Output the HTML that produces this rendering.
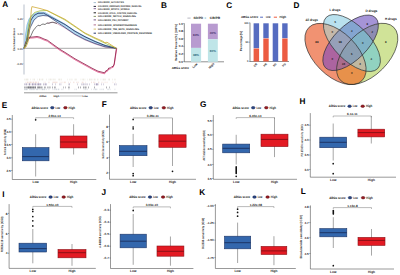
<!DOCTYPE html>
<html><head><meta charset="utf-8"><title>Figure</title>
<style>html,body{margin:0;padding:0;background:#fff;width:400px;height:275px;overflow:hidden;font-family:"Liberation Sans", sans-serif;}</style>
</head><body>
<svg width="400" height="275" viewBox="0 0 400 275" style="display:block" text-rendering="geometricPrecision" font-family="'Liberation Sans', sans-serif">
<rect width="400" height="275" fill="#fff"/>
<text x="2.2" y="6.90" font-size="8.2" font-weight="bold" fill="#000">A</text>
<line x1="24" y1="4.5" x2="24" y2="74.5" stroke="#9aa3b5" stroke-width="0.7"/>
<line x1="24" y1="48.3" x2="116.6" y2="48.3" stroke="#a0a0a0" stroke-width="0.9"/>
<line x1="23" y1="18.7" x2="24" y2="18.7" stroke="#9aa3b5" stroke-width="0.4"/>
<text x="22.6" y="19.599999999999998" font-size="2.6" text-anchor="end" fill="#333" stroke="#333" stroke-width="0.0" font-weight="bold">0.40</text>
<line x1="23" y1="34.1" x2="24" y2="34.1" stroke="#9aa3b5" stroke-width="0.4"/>
<text x="22.6" y="35.0" font-size="2.6" text-anchor="end" fill="#333" stroke="#333" stroke-width="0.0" font-weight="bold">0.20</text>
<line x1="23" y1="49" x2="24" y2="49" stroke="#9aa3b5" stroke-width="0.4"/>
<text x="22.6" y="49.9" font-size="2.6" text-anchor="end" fill="#333" stroke="#333" stroke-width="0.0" font-weight="bold">0.00</text>
<line x1="23" y1="63.8" x2="24" y2="63.8" stroke="#9aa3b5" stroke-width="0.4"/>
<text x="22.6" y="64.7" font-size="2.6" text-anchor="end" fill="#333" stroke="#333" stroke-width="0.0" font-weight="bold">-0.20</text>
<text x="14.6" y="39.5" font-size="2.7" text-anchor="middle" fill="#222" stroke="#222" stroke-width="0.0" font-weight="bold" transform="rotate(-90 14.6 39.5)">Enrichment Score</text>
<polygon points="24,48.3 24.6,44 25.5,35 27,25 29,19 32,15 36,13 40,12.2 45,12.5 65,24.1 75,30.9 85,36.4 95,41.1 105,45.1 116.4,48.3 116.4,48.3 105,46.8 95,43.5 85,39.5 75,34.3 65,27.5 48,16 43,15.5 38,16.5 34,20 30,28 27,42 24,48.3" fill="#b5daf0" stroke="none"/>
<polyline points="24,48.3 24.6,44 25.5,35 27,25 29,19 32,15 36,13 40,12.2 45,12.5 65,24.1 75,30.9 85,36.4 95,41.1 105,45.1 116.4,48.3" fill="none" stroke="#78b4e0" stroke-width="0.7" stroke-linejoin="round"/>
<polyline points="24.3,48.3 25.5,44.0 27.5,38.8 30,38.2 33,38.0 37,37.5 40,38.2 44,40.0 47.3,41.2 55,46.8 60,50.4 65,53.4 75,59.8 85,65.3 92,69.2 98,72.2 104.6,73.8 105.8,71.8 107.3,71.4 108.8,69.0 110.3,69.1 111.8,67.6 113,67.5 114.2,65.0 116.8,48.3" fill="none" stroke="#e4508a" stroke-width="0.75" stroke-linejoin="round"/>
<polyline points="24,48.3 25.5,43 27.5,37.8 30,37.2 33,37 37,36.5 40,37.2 44,39 47.3,40.2 55,45.8 60,49.4 65,52.4 75,58.8 85,64.3 92,68.2 98,71.2 104.6,72.8 105.8,70.8 107.3,70.4 108.8,68 110.3,68.1 111.8,66.6 113,66.5 114.2,64 116.4,48.3" fill="none" stroke="#8a1842" stroke-width="0.8" stroke-linejoin="round"/>
<polyline points="47,23.2 52.7,22.4 57,23.6 65,28.0 75,34.8 85,40.0 95,44.0 105,47.1 116.4,48.3" fill="none" stroke="#b86090" stroke-width="0.45" stroke-linejoin="round"/>
<polyline points="24,48.3 27,42 30,28 34,20 38,16.5 43,15.5 48,16 65,27.5 75,34.3 85,39.5 95,43.5 105,46.8 116.4,48.3" fill="none" stroke="#2c3a70" stroke-width="0.7" stroke-linejoin="round"/>
<polyline points="24,48.3 27,42 29.5,38 31,35.5 33,31 35,28.2 36.5,26.8 38,25.2 40,25.8 41.5,24.6 43,24 45,24.5 47,23 49,23.3 51,22.4 53,22.2 55,22.8 57,23.5" fill="none" stroke="#333333" stroke-width="0.65" stroke-linejoin="round"/>
<polyline points="24,48.3 26,44 27.5,35 28.5,30 31,20 34,15.5 38,13.3 43.6,13.2 65,24.5 75,31.3 85,36.8 95,41.5 105,45.5 116.4,48.3" fill="none" stroke="#1e2d5c" stroke-width="0.8" stroke-linejoin="round"/>
<polyline points="24,48.3 26.5,42 28.5,25 30.5,17.5 34.5,12.5 40,10.8 46.9,10.5 65,20 85,33.5 95,38.5 105,43.2 116.4,48.3" fill="none" stroke="#9fbf3a" stroke-width="0.75" stroke-linejoin="round"/>
<polyline points="24,48.3 26,47 28,42 29.5,30 30.7,18 31.3,10 31.9,6.6 40,8.5 47.3,10.6 65,19.3 85,33 95,37.8 103,41.3 105,42.8 107,42.2 112,45.5 116.4,48.3" fill="none" stroke="#d0aa35" stroke-width="0.8" stroke-linejoin="round"/>
<line x1="93.6" y1="2.6" x2="96" y2="2.6" stroke="#a8c0d0" stroke-width="1.0"/>
<text x="98.1" y="3.4000000000000004" font-size="2.5" fill="#2a2a2a" font-weight="bold" textLength="25.7" lengthAdjust="spacingAndGlyphs">HALLMARK_GLYCOLYSIS</text>
<line x1="93.6" y1="6.4" x2="96" y2="6.4" stroke="#2a2a3a" stroke-width="1.0"/>
<text x="98.1" y="7.2" font-size="2.5" fill="#2a2a2a" font-weight="bold" textLength="43.2" lengthAdjust="spacingAndGlyphs">HALLMARK_ANDROGEN_RESPONSE_SIGNALING</text>
<line x1="93.6" y1="8.7" x2="96" y2="8.7" stroke="#8a6a9a" stroke-width="1.0"/>
<text x="98.1" y="9.5" font-size="2.5" fill="#2a2a2a" font-weight="bold" textLength="31.5" lengthAdjust="spacingAndGlyphs">HALLMARK_MITOTIC_SPINDLE</text>
<line x1="93.6" y1="12.8" x2="96" y2="12.8" stroke="#222222" stroke-width="1.0"/>
<text x="98.1" y="13.600000000000001" font-size="2.5" fill="#2a2a2a" font-weight="bold" textLength="38.8" lengthAdjust="spacingAndGlyphs">HALLMARK_APICAL_JUNCTION_SIGNALING</text>
<line x1="93.6" y1="16.4" x2="96" y2="16.4" stroke="#8a9a6a" stroke-width="1.0"/>
<text x="98.1" y="17.2" font-size="2.5" fill="#2a2a2a" font-weight="bold" textLength="37.8" lengthAdjust="spacingAndGlyphs">HALLMARK_NOTCH_SIGNALING</text>
<line x1="93.6" y1="19.9" x2="96" y2="19.9" stroke="#7a5a8a" stroke-width="1.0"/>
<text x="98.1" y="20.7" font-size="2.5" fill="#2a2a2a" font-weight="bold" textLength="30.5" lengthAdjust="spacingAndGlyphs">HALLMARK_P53_PATHWAY</text>
<line x1="93.6" y1="24.9" x2="96" y2="24.9" stroke="#b07090" stroke-width="1.0"/>
<text x="98.1" y="25.7" font-size="2.5" fill="#2a2a2a" font-weight="bold" textLength="38.8" lengthAdjust="spacingAndGlyphs">HALLMARK_SPERMATOGENESIS</text>
<line x1="93.6" y1="29.1" x2="96" y2="29.1" stroke="#d8c070" stroke-width="1.0"/>
<text x="98.1" y="29.900000000000002" font-size="2.5" fill="#2a2a2a" font-weight="bold" textLength="41.0" lengthAdjust="spacingAndGlyphs">HALLMARK_TNF_BETA_SIGNALING</text>
<line x1="93.6" y1="33.2" x2="96" y2="33.2" stroke="#2a3a6a" stroke-width="1.0"/>
<text x="98.1" y="34.0" font-size="2.5" fill="#2a2a2a" font-weight="bold" textLength="54.1" lengthAdjust="spacingAndGlyphs">HALLMARK_UNFOLDED_PROTEIN_RESPONSE</text>
<line x1="24.5" y1="78.7" x2="24.5" y2="80.4" stroke="#c0b8a0" stroke-width="0.4" opacity="0.45"/>
<line x1="25.3" y1="78.7" x2="25.3" y2="80.4" stroke="#c0b8a0" stroke-width="0.4" opacity="0.45"/>
<line x1="26.5" y1="78.7" x2="26.5" y2="80.4" stroke="#c0b8a0" stroke-width="0.4" opacity="0.45"/>
<line x1="26.9" y1="78.7" x2="26.9" y2="80.4" stroke="#c0b8a0" stroke-width="0.4" opacity="0.45"/>
<line x1="27.7" y1="78.7" x2="27.7" y2="80.4" stroke="#c0b8a0" stroke-width="0.4" opacity="0.45"/>
<line x1="28.1" y1="78.7" x2="28.1" y2="80.4" stroke="#c0b8a0" stroke-width="0.4" opacity="0.45"/>
<line x1="30.5" y1="78.7" x2="30.5" y2="80.4" stroke="#c0b8a0" stroke-width="0.4" opacity="0.45"/>
<line x1="32.9" y1="78.7" x2="32.9" y2="80.4" stroke="#c0b8a0" stroke-width="0.4" opacity="0.45"/>
<line x1="34.1" y1="78.7" x2="34.1" y2="80.4" stroke="#c0b8a0" stroke-width="0.4" opacity="0.45"/>
<line x1="34.5" y1="78.7" x2="34.5" y2="80.4" stroke="#c0b8a0" stroke-width="0.4" opacity="0.45"/>
<line x1="37.3" y1="78.7" x2="37.3" y2="80.4" stroke="#c0b8a0" stroke-width="0.4" opacity="0.45"/>
<line x1="39.3" y1="78.7" x2="39.3" y2="80.4" stroke="#c0b8a0" stroke-width="0.4" opacity="0.45"/>
<line x1="39.7" y1="78.7" x2="39.7" y2="80.4" stroke="#c0b8a0" stroke-width="0.4" opacity="0.45"/>
<line x1="40.1" y1="78.7" x2="40.1" y2="80.4" stroke="#c0b8a0" stroke-width="0.4" opacity="0.45"/>
<line x1="41.7" y1="78.7" x2="41.7" y2="80.4" stroke="#c0b8a0" stroke-width="0.4" opacity="0.45"/>
<line x1="42.5" y1="78.7" x2="42.5" y2="80.4" stroke="#c0b8a0" stroke-width="0.4" opacity="0.45"/>
<line x1="42.9" y1="78.7" x2="42.9" y2="80.4" stroke="#c0b8a0" stroke-width="0.4" opacity="0.45"/>
<line x1="46.5" y1="78.7" x2="46.5" y2="80.4" stroke="#c0b8a0" stroke-width="0.4" opacity="0.45"/>
<line x1="48.9" y1="78.7" x2="48.9" y2="80.4" stroke="#c0b8a0" stroke-width="0.4" opacity="0.45"/>
<line x1="50.1" y1="78.7" x2="50.1" y2="80.4" stroke="#c0b8a0" stroke-width="0.4" opacity="0.45"/>
<line x1="50.5" y1="78.7" x2="50.5" y2="80.4" stroke="#c0b8a0" stroke-width="0.4" opacity="0.45"/>
<line x1="51.7" y1="78.7" x2="51.7" y2="80.4" stroke="#c0b8a0" stroke-width="0.4" opacity="0.45"/>
<line x1="52.9" y1="78.7" x2="52.9" y2="80.4" stroke="#c0b8a0" stroke-width="0.4" opacity="0.45"/>
<line x1="53.3" y1="78.7" x2="53.3" y2="80.4" stroke="#c0b8a0" stroke-width="0.4" opacity="0.45"/>
<line x1="54.5" y1="78.7" x2="54.5" y2="80.4" stroke="#c0b8a0" stroke-width="0.4" opacity="0.45"/>
<line x1="55.3" y1="78.7" x2="55.3" y2="80.4" stroke="#c0b8a0" stroke-width="0.4" opacity="0.45"/>
<line x1="58.5" y1="78.7" x2="58.5" y2="80.4" stroke="#c0b8a0" stroke-width="0.4" opacity="0.45"/>
<line x1="59.3" y1="78.7" x2="59.3" y2="80.4" stroke="#c0b8a0" stroke-width="0.4" opacity="0.45"/>
<line x1="59.7" y1="78.7" x2="59.7" y2="80.4" stroke="#c0b8a0" stroke-width="0.4" opacity="0.45"/>
<line x1="60.9" y1="78.7" x2="60.9" y2="80.4" stroke="#c0b8a0" stroke-width="0.4" opacity="0.45"/>
<line x1="61.3" y1="78.7" x2="61.3" y2="80.4" stroke="#c0b8a0" stroke-width="0.4" opacity="0.45"/>
<line x1="67.7" y1="78.7" x2="67.7" y2="80.4" stroke="#c0b8a0" stroke-width="0.4" opacity="0.45"/>
<line x1="69.7" y1="78.7" x2="69.7" y2="80.4" stroke="#c0b8a0" stroke-width="0.4" opacity="0.45"/>
<line x1="70.9" y1="78.7" x2="70.9" y2="80.4" stroke="#c0b8a0" stroke-width="0.4" opacity="0.45"/>
<line x1="72.1" y1="78.7" x2="72.1" y2="80.4" stroke="#c0b8a0" stroke-width="0.4" opacity="0.45"/>
<line x1="74.9" y1="78.7" x2="74.9" y2="80.4" stroke="#c0b8a0" stroke-width="0.4" opacity="0.45"/>
<line x1="75.3" y1="78.7" x2="75.3" y2="80.4" stroke="#c0b8a0" stroke-width="0.4" opacity="0.45"/>
<line x1="76.5" y1="78.7" x2="76.5" y2="80.4" stroke="#c0b8a0" stroke-width="0.4" opacity="0.45"/>
<line x1="80.9" y1="78.7" x2="80.9" y2="80.4" stroke="#c0b8a0" stroke-width="0.4" opacity="0.45"/>
<line x1="82.5" y1="78.7" x2="82.5" y2="80.4" stroke="#c0b8a0" stroke-width="0.4" opacity="0.45"/>
<line x1="83.3" y1="78.7" x2="83.3" y2="80.4" stroke="#c0b8a0" stroke-width="0.4" opacity="0.45"/>
<line x1="83.7" y1="78.7" x2="83.7" y2="80.4" stroke="#c0b8a0" stroke-width="0.4" opacity="0.45"/>
<line x1="84.9" y1="78.7" x2="84.9" y2="80.4" stroke="#c0b8a0" stroke-width="0.4" opacity="0.45"/>
<line x1="87.3" y1="78.7" x2="87.3" y2="80.4" stroke="#c0b8a0" stroke-width="0.4" opacity="0.45"/>
<line x1="89.3" y1="78.7" x2="89.3" y2="80.4" stroke="#c0b8a0" stroke-width="0.4" opacity="0.45"/>
<line x1="89.7" y1="78.7" x2="89.7" y2="80.4" stroke="#c0b8a0" stroke-width="0.4" opacity="0.45"/>
<line x1="90.5" y1="78.7" x2="90.5" y2="80.4" stroke="#c0b8a0" stroke-width="0.4" opacity="0.45"/>
<line x1="91.7" y1="78.7" x2="91.7" y2="80.4" stroke="#c0b8a0" stroke-width="0.4" opacity="0.45"/>
<line x1="92.1" y1="78.7" x2="92.1" y2="80.4" stroke="#c0b8a0" stroke-width="0.4" opacity="0.45"/>
<line x1="94.1" y1="78.7" x2="94.1" y2="80.4" stroke="#c0b8a0" stroke-width="0.4" opacity="0.45"/>
<line x1="94.5" y1="78.7" x2="94.5" y2="80.4" stroke="#c0b8a0" stroke-width="0.4" opacity="0.45"/>
<line x1="95.3" y1="78.7" x2="95.3" y2="80.4" stroke="#c0b8a0" stroke-width="0.4" opacity="0.45"/>
<line x1="97.7" y1="78.7" x2="97.7" y2="80.4" stroke="#c0b8a0" stroke-width="0.4" opacity="0.45"/>
<line x1="98.1" y1="78.7" x2="98.1" y2="80.4" stroke="#c0b8a0" stroke-width="0.4" opacity="0.45"/>
<line x1="100.9" y1="78.7" x2="100.9" y2="80.4" stroke="#c0b8a0" stroke-width="0.4" opacity="0.45"/>
<line x1="102.9" y1="78.7" x2="102.9" y2="80.4" stroke="#c0b8a0" stroke-width="0.4" opacity="0.45"/>
<line x1="103.7" y1="78.7" x2="103.7" y2="80.4" stroke="#c0b8a0" stroke-width="0.4" opacity="0.45"/>
<line x1="104.1" y1="78.7" x2="104.1" y2="80.4" stroke="#c0b8a0" stroke-width="0.4" opacity="0.45"/>
<line x1="104.9" y1="78.7" x2="104.9" y2="80.4" stroke="#c0b8a0" stroke-width="0.4" opacity="0.45"/>
<line x1="105.7" y1="78.7" x2="105.7" y2="80.4" stroke="#c0b8a0" stroke-width="0.4" opacity="0.45"/>
<line x1="108.5" y1="78.7" x2="108.5" y2="80.4" stroke="#c0b8a0" stroke-width="0.4" opacity="0.45"/>
<line x1="109.3" y1="78.7" x2="109.3" y2="80.4" stroke="#c0b8a0" stroke-width="0.4" opacity="0.45"/>
<line x1="109.7" y1="78.7" x2="109.7" y2="80.4" stroke="#c0b8a0" stroke-width="0.4" opacity="0.45"/>
<line x1="112.5" y1="78.7" x2="112.5" y2="80.4" stroke="#c0b8a0" stroke-width="0.4" opacity="0.45"/>
<line x1="114.5" y1="78.7" x2="114.5" y2="80.4" stroke="#c0b8a0" stroke-width="0.4" opacity="0.45"/>
<line x1="115.7" y1="78.7" x2="115.7" y2="80.4" stroke="#c0b8a0" stroke-width="0.4" opacity="0.45"/>
<line x1="25.7" y1="81.7" x2="25.7" y2="83.10000000000001" stroke="#e0a898" stroke-width="0.4" opacity="0.5"/>
<line x1="26.9" y1="81.7" x2="26.9" y2="83.10000000000001" stroke="#e0a898" stroke-width="0.4" opacity="0.5"/>
<line x1="27.3" y1="81.7" x2="27.3" y2="83.10000000000001" stroke="#e0a898" stroke-width="0.4" opacity="0.5"/>
<line x1="27.7" y1="81.7" x2="27.7" y2="83.10000000000001" stroke="#e0a898" stroke-width="0.4" opacity="0.5"/>
<line x1="28.5" y1="81.7" x2="28.5" y2="83.10000000000001" stroke="#e0a898" stroke-width="0.4" opacity="0.5"/>
<line x1="29.7" y1="81.7" x2="29.7" y2="83.10000000000001" stroke="#e0a898" stroke-width="0.4" opacity="0.5"/>
<line x1="30.1" y1="81.7" x2="30.1" y2="83.10000000000001" stroke="#e0a898" stroke-width="0.4" opacity="0.5"/>
<line x1="30.5" y1="81.7" x2="30.5" y2="83.10000000000001" stroke="#e0a898" stroke-width="0.4" opacity="0.5"/>
<line x1="30.9" y1="81.7" x2="30.9" y2="83.10000000000001" stroke="#e0a898" stroke-width="0.4" opacity="0.5"/>
<line x1="31.3" y1="81.7" x2="31.3" y2="83.10000000000001" stroke="#e0a898" stroke-width="0.4" opacity="0.5"/>
<line x1="32.5" y1="81.7" x2="32.5" y2="83.10000000000001" stroke="#e0a898" stroke-width="0.4" opacity="0.5"/>
<line x1="33.3" y1="81.7" x2="33.3" y2="83.10000000000001" stroke="#e0a898" stroke-width="0.4" opacity="0.5"/>
<line x1="33.7" y1="81.7" x2="33.7" y2="83.10000000000001" stroke="#e0a898" stroke-width="0.4" opacity="0.5"/>
<line x1="34.1" y1="81.7" x2="34.1" y2="83.10000000000001" stroke="#e0a898" stroke-width="0.4" opacity="0.5"/>
<line x1="35.3" y1="81.7" x2="35.3" y2="83.10000000000001" stroke="#e0a898" stroke-width="0.4" opacity="0.5"/>
<line x1="35.7" y1="81.7" x2="35.7" y2="83.10000000000001" stroke="#e0a898" stroke-width="0.4" opacity="0.5"/>
<line x1="36.1" y1="81.7" x2="36.1" y2="83.10000000000001" stroke="#e0a898" stroke-width="0.4" opacity="0.5"/>
<line x1="36.5" y1="81.7" x2="36.5" y2="83.10000000000001" stroke="#e0a898" stroke-width="0.4" opacity="0.5"/>
<line x1="38.1" y1="81.7" x2="38.1" y2="83.10000000000001" stroke="#e0a898" stroke-width="0.4" opacity="0.5"/>
<line x1="38.5" y1="81.7" x2="38.5" y2="83.10000000000001" stroke="#e0a898" stroke-width="0.4" opacity="0.5"/>
<line x1="44.1" y1="81.7" x2="44.1" y2="83.10000000000001" stroke="#e0a898" stroke-width="0.4" opacity="0.5"/>
<line x1="45.3" y1="81.7" x2="45.3" y2="83.10000000000001" stroke="#e0a898" stroke-width="0.4" opacity="0.5"/>
<line x1="48.5" y1="81.7" x2="48.5" y2="83.10000000000001" stroke="#e0a898" stroke-width="0.4" opacity="0.5"/>
<line x1="49.3" y1="81.7" x2="49.3" y2="83.10000000000001" stroke="#e0a898" stroke-width="0.4" opacity="0.5"/>
<line x1="52.5" y1="81.7" x2="52.5" y2="83.10000000000001" stroke="#e0a898" stroke-width="0.4" opacity="0.5"/>
<line x1="53.3" y1="81.7" x2="53.3" y2="83.10000000000001" stroke="#e0a898" stroke-width="0.4" opacity="0.5"/>
<line x1="53.7" y1="81.7" x2="53.7" y2="83.10000000000001" stroke="#e0a898" stroke-width="0.4" opacity="0.5"/>
<line x1="54.5" y1="81.7" x2="54.5" y2="83.10000000000001" stroke="#e0a898" stroke-width="0.4" opacity="0.5"/>
<line x1="54.9" y1="81.7" x2="54.9" y2="83.10000000000001" stroke="#e0a898" stroke-width="0.4" opacity="0.5"/>
<line x1="55.3" y1="81.7" x2="55.3" y2="83.10000000000001" stroke="#e0a898" stroke-width="0.4" opacity="0.5"/>
<line x1="56.1" y1="81.7" x2="56.1" y2="83.10000000000001" stroke="#e0a898" stroke-width="0.4" opacity="0.5"/>
<line x1="56.5" y1="81.7" x2="56.5" y2="83.10000000000001" stroke="#e0a898" stroke-width="0.4" opacity="0.5"/>
<line x1="57.3" y1="81.7" x2="57.3" y2="83.10000000000001" stroke="#e0a898" stroke-width="0.4" opacity="0.5"/>
<line x1="60.1" y1="81.7" x2="60.1" y2="83.10000000000001" stroke="#e0a898" stroke-width="0.4" opacity="0.5"/>
<line x1="61.7" y1="81.7" x2="61.7" y2="83.10000000000001" stroke="#e0a898" stroke-width="0.4" opacity="0.5"/>
<line x1="62.9" y1="81.7" x2="62.9" y2="83.10000000000001" stroke="#e0a898" stroke-width="0.4" opacity="0.5"/>
<line x1="64.5" y1="81.7" x2="64.5" y2="83.10000000000001" stroke="#e0a898" stroke-width="0.4" opacity="0.5"/>
<line x1="64.9" y1="81.7" x2="64.9" y2="83.10000000000001" stroke="#e0a898" stroke-width="0.4" opacity="0.5"/>
<line x1="65.3" y1="81.7" x2="65.3" y2="83.10000000000001" stroke="#e0a898" stroke-width="0.4" opacity="0.5"/>
<line x1="68.5" y1="81.7" x2="68.5" y2="83.10000000000001" stroke="#e0a898" stroke-width="0.4" opacity="0.5"/>
<line x1="70.5" y1="81.7" x2="70.5" y2="83.10000000000001" stroke="#e0a898" stroke-width="0.4" opacity="0.5"/>
<line x1="73.7" y1="81.7" x2="73.7" y2="83.10000000000001" stroke="#e0a898" stroke-width="0.4" opacity="0.5"/>
<line x1="74.1" y1="81.7" x2="74.1" y2="83.10000000000001" stroke="#e0a898" stroke-width="0.4" opacity="0.5"/>
<line x1="76.5" y1="81.7" x2="76.5" y2="83.10000000000001" stroke="#e0a898" stroke-width="0.4" opacity="0.5"/>
<line x1="77.3" y1="81.7" x2="77.3" y2="83.10000000000001" stroke="#e0a898" stroke-width="0.4" opacity="0.5"/>
<line x1="78.5" y1="81.7" x2="78.5" y2="83.10000000000001" stroke="#e0a898" stroke-width="0.4" opacity="0.5"/>
<line x1="82.1" y1="81.7" x2="82.1" y2="83.10000000000001" stroke="#e0a898" stroke-width="0.4" opacity="0.5"/>
<line x1="82.5" y1="81.7" x2="82.5" y2="83.10000000000001" stroke="#e0a898" stroke-width="0.4" opacity="0.5"/>
<line x1="83.7" y1="81.7" x2="83.7" y2="83.10000000000001" stroke="#e0a898" stroke-width="0.4" opacity="0.5"/>
<line x1="85.3" y1="81.7" x2="85.3" y2="83.10000000000001" stroke="#e0a898" stroke-width="0.4" opacity="0.5"/>
<line x1="91.3" y1="81.7" x2="91.3" y2="83.10000000000001" stroke="#e0a898" stroke-width="0.4" opacity="0.5"/>
<line x1="91.7" y1="81.7" x2="91.7" y2="83.10000000000001" stroke="#e0a898" stroke-width="0.4" opacity="0.5"/>
<line x1="93.7" y1="81.7" x2="93.7" y2="83.10000000000001" stroke="#e0a898" stroke-width="0.4" opacity="0.5"/>
<line x1="94.1" y1="81.7" x2="94.1" y2="83.10000000000001" stroke="#e0a898" stroke-width="0.4" opacity="0.5"/>
<line x1="94.9" y1="81.7" x2="94.9" y2="83.10000000000001" stroke="#e0a898" stroke-width="0.4" opacity="0.5"/>
<line x1="98.5" y1="81.7" x2="98.5" y2="83.10000000000001" stroke="#e0a898" stroke-width="0.4" opacity="0.5"/>
<line x1="98.9" y1="81.7" x2="98.9" y2="83.10000000000001" stroke="#e0a898" stroke-width="0.4" opacity="0.5"/>
<line x1="101.3" y1="81.7" x2="101.3" y2="83.10000000000001" stroke="#e0a898" stroke-width="0.4" opacity="0.5"/>
<line x1="102.9" y1="81.7" x2="102.9" y2="83.10000000000001" stroke="#e0a898" stroke-width="0.4" opacity="0.5"/>
<line x1="104.9" y1="81.7" x2="104.9" y2="83.10000000000001" stroke="#e0a898" stroke-width="0.4" opacity="0.5"/>
<line x1="106.1" y1="81.7" x2="106.1" y2="83.10000000000001" stroke="#e0a898" stroke-width="0.4" opacity="0.5"/>
<line x1="107.3" y1="81.7" x2="107.3" y2="83.10000000000001" stroke="#e0a898" stroke-width="0.4" opacity="0.5"/>
<line x1="112.9" y1="81.7" x2="112.9" y2="83.10000000000001" stroke="#e0a898" stroke-width="0.4" opacity="0.5"/>
<line x1="115.3" y1="81.7" x2="115.3" y2="83.10000000000001" stroke="#e0a898" stroke-width="0.4" opacity="0.5"/>
<line x1="24.5" y1="83.4" x2="24.5" y2="85.30000000000001" stroke="#5a4a80" stroke-width="0.4" opacity="0.7"/>
<line x1="25.7" y1="83.4" x2="25.7" y2="85.30000000000001" stroke="#5a4a80" stroke-width="0.4" opacity="0.7"/>
<line x1="26.5" y1="83.4" x2="26.5" y2="85.30000000000001" stroke="#5a4a80" stroke-width="0.4" opacity="0.7"/>
<line x1="26.9" y1="83.4" x2="26.9" y2="85.30000000000001" stroke="#5a4a80" stroke-width="0.4" opacity="0.7"/>
<line x1="28.9" y1="83.4" x2="28.9" y2="85.30000000000001" stroke="#5a4a80" stroke-width="0.4" opacity="0.7"/>
<line x1="29.3" y1="83.4" x2="29.3" y2="85.30000000000001" stroke="#5a4a80" stroke-width="0.4" opacity="0.7"/>
<line x1="29.7" y1="83.4" x2="29.7" y2="85.30000000000001" stroke="#5a4a80" stroke-width="0.4" opacity="0.7"/>
<line x1="30.1" y1="83.4" x2="30.1" y2="85.30000000000001" stroke="#5a4a80" stroke-width="0.4" opacity="0.7"/>
<line x1="32.1" y1="83.4" x2="32.1" y2="85.30000000000001" stroke="#5a4a80" stroke-width="0.4" opacity="0.7"/>
<line x1="32.5" y1="83.4" x2="32.5" y2="85.30000000000001" stroke="#5a4a80" stroke-width="0.4" opacity="0.7"/>
<line x1="32.9" y1="83.4" x2="32.9" y2="85.30000000000001" stroke="#5a4a80" stroke-width="0.4" opacity="0.7"/>
<line x1="33.7" y1="83.4" x2="33.7" y2="85.30000000000001" stroke="#5a4a80" stroke-width="0.4" opacity="0.7"/>
<line x1="34.5" y1="83.4" x2="34.5" y2="85.30000000000001" stroke="#5a4a80" stroke-width="0.4" opacity="0.7"/>
<line x1="35.3" y1="83.4" x2="35.3" y2="85.30000000000001" stroke="#5a4a80" stroke-width="0.4" opacity="0.7"/>
<line x1="35.7" y1="83.4" x2="35.7" y2="85.30000000000001" stroke="#5a4a80" stroke-width="0.4" opacity="0.7"/>
<line x1="36.1" y1="83.4" x2="36.1" y2="85.30000000000001" stroke="#5a4a80" stroke-width="0.4" opacity="0.7"/>
<line x1="37.3" y1="83.4" x2="37.3" y2="85.30000000000001" stroke="#5a4a80" stroke-width="0.4" opacity="0.7"/>
<line x1="38.1" y1="83.4" x2="38.1" y2="85.30000000000001" stroke="#5a4a80" stroke-width="0.4" opacity="0.7"/>
<line x1="38.5" y1="83.4" x2="38.5" y2="85.30000000000001" stroke="#5a4a80" stroke-width="0.4" opacity="0.7"/>
<line x1="38.9" y1="83.4" x2="38.9" y2="85.30000000000001" stroke="#5a4a80" stroke-width="0.4" opacity="0.7"/>
<line x1="39.3" y1="83.4" x2="39.3" y2="85.30000000000001" stroke="#5a4a80" stroke-width="0.4" opacity="0.7"/>
<line x1="40.5" y1="83.4" x2="40.5" y2="85.30000000000001" stroke="#5a4a80" stroke-width="0.4" opacity="0.7"/>
<line x1="40.9" y1="83.4" x2="40.9" y2="85.30000000000001" stroke="#5a4a80" stroke-width="0.4" opacity="0.7"/>
<line x1="43.3" y1="83.4" x2="43.3" y2="85.30000000000001" stroke="#5a4a80" stroke-width="0.4" opacity="0.7"/>
<line x1="44.1" y1="83.4" x2="44.1" y2="85.30000000000001" stroke="#5a4a80" stroke-width="0.4" opacity="0.7"/>
<line x1="45.3" y1="83.4" x2="45.3" y2="85.30000000000001" stroke="#5a4a80" stroke-width="0.4" opacity="0.7"/>
<line x1="45.7" y1="83.4" x2="45.7" y2="85.30000000000001" stroke="#5a4a80" stroke-width="0.4" opacity="0.7"/>
<line x1="46.5" y1="83.4" x2="46.5" y2="85.30000000000001" stroke="#5a4a80" stroke-width="0.4" opacity="0.7"/>
<line x1="52.5" y1="83.4" x2="52.5" y2="85.30000000000001" stroke="#5a4a80" stroke-width="0.4" opacity="0.7"/>
<line x1="55.7" y1="83.4" x2="55.7" y2="85.30000000000001" stroke="#5a4a80" stroke-width="0.4" opacity="0.7"/>
<line x1="59.7" y1="83.4" x2="59.7" y2="85.30000000000001" stroke="#5a4a80" stroke-width="0.4" opacity="0.7"/>
<line x1="60.9" y1="83.4" x2="60.9" y2="85.30000000000001" stroke="#5a4a80" stroke-width="0.4" opacity="0.7"/>
<line x1="68.9" y1="83.4" x2="68.9" y2="85.30000000000001" stroke="#5a4a80" stroke-width="0.4" opacity="0.7"/>
<line x1="69.3" y1="83.4" x2="69.3" y2="85.30000000000001" stroke="#5a4a80" stroke-width="0.4" opacity="0.7"/>
<line x1="77.3" y1="83.4" x2="77.3" y2="85.30000000000001" stroke="#5a4a80" stroke-width="0.4" opacity="0.7"/>
<line x1="81.3" y1="83.4" x2="81.3" y2="85.30000000000001" stroke="#5a4a80" stroke-width="0.4" opacity="0.7"/>
<line x1="82.9" y1="83.4" x2="82.9" y2="85.30000000000001" stroke="#5a4a80" stroke-width="0.4" opacity="0.7"/>
<line x1="83.3" y1="83.4" x2="83.3" y2="85.30000000000001" stroke="#5a4a80" stroke-width="0.4" opacity="0.7"/>
<line x1="84.9" y1="83.4" x2="84.9" y2="85.30000000000001" stroke="#5a4a80" stroke-width="0.4" opacity="0.7"/>
<line x1="86.1" y1="83.4" x2="86.1" y2="85.30000000000001" stroke="#5a4a80" stroke-width="0.4" opacity="0.7"/>
<line x1="87.3" y1="83.4" x2="87.3" y2="85.30000000000001" stroke="#5a4a80" stroke-width="0.4" opacity="0.7"/>
<line x1="89.7" y1="83.4" x2="89.7" y2="85.30000000000001" stroke="#5a4a80" stroke-width="0.4" opacity="0.7"/>
<line x1="94.5" y1="83.4" x2="94.5" y2="85.30000000000001" stroke="#5a4a80" stroke-width="0.4" opacity="0.7"/>
<line x1="96.1" y1="83.4" x2="96.1" y2="85.30000000000001" stroke="#5a4a80" stroke-width="0.4" opacity="0.7"/>
<line x1="96.5" y1="83.4" x2="96.5" y2="85.30000000000001" stroke="#5a4a80" stroke-width="0.4" opacity="0.7"/>
<line x1="96.9" y1="83.4" x2="96.9" y2="85.30000000000001" stroke="#5a4a80" stroke-width="0.4" opacity="0.7"/>
<line x1="97.7" y1="83.4" x2="97.7" y2="85.30000000000001" stroke="#5a4a80" stroke-width="0.4" opacity="0.7"/>
<line x1="98.1" y1="83.4" x2="98.1" y2="85.30000000000001" stroke="#5a4a80" stroke-width="0.4" opacity="0.7"/>
<line x1="101.7" y1="83.4" x2="101.7" y2="85.30000000000001" stroke="#5a4a80" stroke-width="0.4" opacity="0.7"/>
<line x1="103.3" y1="83.4" x2="103.3" y2="85.30000000000001" stroke="#5a4a80" stroke-width="0.4" opacity="0.7"/>
<line x1="114.5" y1="83.4" x2="114.5" y2="85.30000000000001" stroke="#5a4a80" stroke-width="0.4" opacity="0.7"/>
<line x1="116.1" y1="83.4" x2="116.1" y2="85.30000000000001" stroke="#5a4a80" stroke-width="0.4" opacity="0.7"/>
<line x1="24.5" y1="86.5" x2="24.5" y2="88.4" stroke="#1a1a26" stroke-width="0.4" opacity="0.85"/>
<line x1="25.3" y1="86.5" x2="25.3" y2="88.4" stroke="#1a1a26" stroke-width="0.4" opacity="0.85"/>
<line x1="26.5" y1="86.5" x2="26.5" y2="88.4" stroke="#1a1a26" stroke-width="0.4" opacity="0.85"/>
<line x1="27.7" y1="86.5" x2="27.7" y2="88.4" stroke="#1a1a26" stroke-width="0.4" opacity="0.85"/>
<line x1="28.1" y1="86.5" x2="28.1" y2="88.4" stroke="#1a1a26" stroke-width="0.4" opacity="0.85"/>
<line x1="28.5" y1="86.5" x2="28.5" y2="88.4" stroke="#1a1a26" stroke-width="0.4" opacity="0.85"/>
<line x1="28.9" y1="86.5" x2="28.9" y2="88.4" stroke="#1a1a26" stroke-width="0.4" opacity="0.85"/>
<line x1="29.7" y1="86.5" x2="29.7" y2="88.4" stroke="#1a1a26" stroke-width="0.4" opacity="0.85"/>
<line x1="30.1" y1="86.5" x2="30.1" y2="88.4" stroke="#1a1a26" stroke-width="0.4" opacity="0.85"/>
<line x1="30.5" y1="86.5" x2="30.5" y2="88.4" stroke="#1a1a26" stroke-width="0.4" opacity="0.85"/>
<line x1="30.9" y1="86.5" x2="30.9" y2="88.4" stroke="#1a1a26" stroke-width="0.4" opacity="0.85"/>
<line x1="31.7" y1="86.5" x2="31.7" y2="88.4" stroke="#1a1a26" stroke-width="0.4" opacity="0.85"/>
<line x1="32.1" y1="86.5" x2="32.1" y2="88.4" stroke="#1a1a26" stroke-width="0.4" opacity="0.85"/>
<line x1="32.5" y1="86.5" x2="32.5" y2="88.4" stroke="#1a1a26" stroke-width="0.4" opacity="0.85"/>
<line x1="33.3" y1="86.5" x2="33.3" y2="88.4" stroke="#1a1a26" stroke-width="0.4" opacity="0.85"/>
<line x1="33.7" y1="86.5" x2="33.7" y2="88.4" stroke="#1a1a26" stroke-width="0.4" opacity="0.85"/>
<line x1="34.1" y1="86.5" x2="34.1" y2="88.4" stroke="#1a1a26" stroke-width="0.4" opacity="0.85"/>
<line x1="34.9" y1="86.5" x2="34.9" y2="88.4" stroke="#1a1a26" stroke-width="0.4" opacity="0.85"/>
<line x1="35.3" y1="86.5" x2="35.3" y2="88.4" stroke="#1a1a26" stroke-width="0.4" opacity="0.85"/>
<line x1="35.7" y1="86.5" x2="35.7" y2="88.4" stroke="#1a1a26" stroke-width="0.4" opacity="0.85"/>
<line x1="37.7" y1="86.5" x2="37.7" y2="88.4" stroke="#1a1a26" stroke-width="0.4" opacity="0.85"/>
<line x1="38.1" y1="86.5" x2="38.1" y2="88.4" stroke="#1a1a26" stroke-width="0.4" opacity="0.85"/>
<line x1="38.5" y1="86.5" x2="38.5" y2="88.4" stroke="#1a1a26" stroke-width="0.4" opacity="0.85"/>
<line x1="39.3" y1="86.5" x2="39.3" y2="88.4" stroke="#1a1a26" stroke-width="0.4" opacity="0.85"/>
<line x1="39.7" y1="86.5" x2="39.7" y2="88.4" stroke="#1a1a26" stroke-width="0.4" opacity="0.85"/>
<line x1="40.5" y1="86.5" x2="40.5" y2="88.4" stroke="#1a1a26" stroke-width="0.4" opacity="0.85"/>
<line x1="41.3" y1="86.5" x2="41.3" y2="88.4" stroke="#1a1a26" stroke-width="0.4" opacity="0.85"/>
<line x1="42.1" y1="86.5" x2="42.1" y2="88.4" stroke="#1a1a26" stroke-width="0.4" opacity="0.85"/>
<line x1="44.5" y1="86.5" x2="44.5" y2="88.4" stroke="#1a1a26" stroke-width="0.4" opacity="0.85"/>
<line x1="45.7" y1="86.5" x2="45.7" y2="88.4" stroke="#1a1a26" stroke-width="0.4" opacity="0.85"/>
<line x1="47.3" y1="86.5" x2="47.3" y2="88.4" stroke="#1a1a26" stroke-width="0.4" opacity="0.85"/>
<line x1="48.9" y1="86.5" x2="48.9" y2="88.4" stroke="#1a1a26" stroke-width="0.4" opacity="0.85"/>
<line x1="50.1" y1="86.5" x2="50.1" y2="88.4" stroke="#1a1a26" stroke-width="0.4" opacity="0.85"/>
<line x1="52.5" y1="86.5" x2="52.5" y2="88.4" stroke="#1a1a26" stroke-width="0.4" opacity="0.85"/>
<line x1="54.5" y1="86.5" x2="54.5" y2="88.4" stroke="#1a1a26" stroke-width="0.4" opacity="0.85"/>
<line x1="55.3" y1="86.5" x2="55.3" y2="88.4" stroke="#1a1a26" stroke-width="0.4" opacity="0.85"/>
<line x1="63.3" y1="86.5" x2="63.3" y2="88.4" stroke="#1a1a26" stroke-width="0.4" opacity="0.85"/>
<line x1="65.3" y1="86.5" x2="65.3" y2="88.4" stroke="#1a1a26" stroke-width="0.4" opacity="0.85"/>
<line x1="68.5" y1="86.5" x2="68.5" y2="88.4" stroke="#1a1a26" stroke-width="0.4" opacity="0.85"/>
<line x1="69.7" y1="86.5" x2="69.7" y2="88.4" stroke="#1a1a26" stroke-width="0.4" opacity="0.85"/>
<line x1="78.5" y1="86.5" x2="78.5" y2="88.4" stroke="#1a1a26" stroke-width="0.4" opacity="0.85"/>
<line x1="80.5" y1="86.5" x2="80.5" y2="88.4" stroke="#1a1a26" stroke-width="0.4" opacity="0.85"/>
<line x1="83.3" y1="86.5" x2="83.3" y2="88.4" stroke="#1a1a26" stroke-width="0.4" opacity="0.85"/>
<line x1="84.1" y1="86.5" x2="84.1" y2="88.4" stroke="#1a1a26" stroke-width="0.4" opacity="0.85"/>
<line x1="85.3" y1="86.5" x2="85.3" y2="88.4" stroke="#1a1a26" stroke-width="0.4" opacity="0.85"/>
<line x1="86.1" y1="86.5" x2="86.1" y2="88.4" stroke="#1a1a26" stroke-width="0.4" opacity="0.85"/>
<line x1="88.5" y1="86.5" x2="88.5" y2="88.4" stroke="#1a1a26" stroke-width="0.4" opacity="0.85"/>
<line x1="94.5" y1="86.5" x2="94.5" y2="88.4" stroke="#1a1a26" stroke-width="0.4" opacity="0.85"/>
<line x1="106.5" y1="86.5" x2="106.5" y2="88.4" stroke="#1a1a26" stroke-width="0.4" opacity="0.85"/>
<line x1="109.3" y1="86.5" x2="109.3" y2="88.4" stroke="#1a1a26" stroke-width="0.4" opacity="0.85"/>
<line x1="24.5" y1="88.7" x2="24.5" y2="90.10000000000001" stroke="#7a8aa0" stroke-width="0.4" opacity="0.5"/>
<line x1="24.9" y1="88.7" x2="24.9" y2="90.10000000000001" stroke="#7a8aa0" stroke-width="0.4" opacity="0.5"/>
<line x1="25.3" y1="88.7" x2="25.3" y2="90.10000000000001" stroke="#7a8aa0" stroke-width="0.4" opacity="0.5"/>
<line x1="26.1" y1="88.7" x2="26.1" y2="90.10000000000001" stroke="#7a8aa0" stroke-width="0.4" opacity="0.5"/>
<line x1="26.5" y1="88.7" x2="26.5" y2="90.10000000000001" stroke="#7a8aa0" stroke-width="0.4" opacity="0.5"/>
<line x1="26.9" y1="88.7" x2="26.9" y2="90.10000000000001" stroke="#7a8aa0" stroke-width="0.4" opacity="0.5"/>
<line x1="27.3" y1="88.7" x2="27.3" y2="90.10000000000001" stroke="#7a8aa0" stroke-width="0.4" opacity="0.5"/>
<line x1="29.7" y1="88.7" x2="29.7" y2="90.10000000000001" stroke="#7a8aa0" stroke-width="0.4" opacity="0.5"/>
<line x1="30.1" y1="88.7" x2="30.1" y2="90.10000000000001" stroke="#7a8aa0" stroke-width="0.4" opacity="0.5"/>
<line x1="30.9" y1="88.7" x2="30.9" y2="90.10000000000001" stroke="#7a8aa0" stroke-width="0.4" opacity="0.5"/>
<line x1="31.3" y1="88.7" x2="31.3" y2="90.10000000000001" stroke="#7a8aa0" stroke-width="0.4" opacity="0.5"/>
<line x1="32.1" y1="88.7" x2="32.1" y2="90.10000000000001" stroke="#7a8aa0" stroke-width="0.4" opacity="0.5"/>
<line x1="32.9" y1="88.7" x2="32.9" y2="90.10000000000001" stroke="#7a8aa0" stroke-width="0.4" opacity="0.5"/>
<line x1="33.3" y1="88.7" x2="33.3" y2="90.10000000000001" stroke="#7a8aa0" stroke-width="0.4" opacity="0.5"/>
<line x1="34.1" y1="88.7" x2="34.1" y2="90.10000000000001" stroke="#7a8aa0" stroke-width="0.4" opacity="0.5"/>
<line x1="34.9" y1="88.7" x2="34.9" y2="90.10000000000001" stroke="#7a8aa0" stroke-width="0.4" opacity="0.5"/>
<line x1="36.5" y1="88.7" x2="36.5" y2="90.10000000000001" stroke="#7a8aa0" stroke-width="0.4" opacity="0.5"/>
<line x1="36.9" y1="88.7" x2="36.9" y2="90.10000000000001" stroke="#7a8aa0" stroke-width="0.4" opacity="0.5"/>
<line x1="37.7" y1="88.7" x2="37.7" y2="90.10000000000001" stroke="#7a8aa0" stroke-width="0.4" opacity="0.5"/>
<line x1="38.1" y1="88.7" x2="38.1" y2="90.10000000000001" stroke="#7a8aa0" stroke-width="0.4" opacity="0.5"/>
<line x1="39.3" y1="88.7" x2="39.3" y2="90.10000000000001" stroke="#7a8aa0" stroke-width="0.4" opacity="0.5"/>
<line x1="40.9" y1="88.7" x2="40.9" y2="90.10000000000001" stroke="#7a8aa0" stroke-width="0.4" opacity="0.5"/>
<line x1="42.1" y1="88.7" x2="42.1" y2="90.10000000000001" stroke="#7a8aa0" stroke-width="0.4" opacity="0.5"/>
<line x1="42.5" y1="88.7" x2="42.5" y2="90.10000000000001" stroke="#7a8aa0" stroke-width="0.4" opacity="0.5"/>
<line x1="42.9" y1="88.7" x2="42.9" y2="90.10000000000001" stroke="#7a8aa0" stroke-width="0.4" opacity="0.5"/>
<line x1="43.3" y1="88.7" x2="43.3" y2="90.10000000000001" stroke="#7a8aa0" stroke-width="0.4" opacity="0.5"/>
<line x1="44.5" y1="88.7" x2="44.5" y2="90.10000000000001" stroke="#7a8aa0" stroke-width="0.4" opacity="0.5"/>
<line x1="44.9" y1="88.7" x2="44.9" y2="90.10000000000001" stroke="#7a8aa0" stroke-width="0.4" opacity="0.5"/>
<line x1="46.5" y1="88.7" x2="46.5" y2="90.10000000000001" stroke="#7a8aa0" stroke-width="0.4" opacity="0.5"/>
<line x1="48.9" y1="88.7" x2="48.9" y2="90.10000000000001" stroke="#7a8aa0" stroke-width="0.4" opacity="0.5"/>
<line x1="52.9" y1="88.7" x2="52.9" y2="90.10000000000001" stroke="#7a8aa0" stroke-width="0.4" opacity="0.5"/>
<line x1="54.5" y1="88.7" x2="54.5" y2="90.10000000000001" stroke="#7a8aa0" stroke-width="0.4" opacity="0.5"/>
<line x1="55.7" y1="88.7" x2="55.7" y2="90.10000000000001" stroke="#7a8aa0" stroke-width="0.4" opacity="0.5"/>
<line x1="56.5" y1="88.7" x2="56.5" y2="90.10000000000001" stroke="#7a8aa0" stroke-width="0.4" opacity="0.5"/>
<line x1="56.9" y1="88.7" x2="56.9" y2="90.10000000000001" stroke="#7a8aa0" stroke-width="0.4" opacity="0.5"/>
<line x1="58.5" y1="88.7" x2="58.5" y2="90.10000000000001" stroke="#7a8aa0" stroke-width="0.4" opacity="0.5"/>
<line x1="58.9" y1="88.7" x2="58.9" y2="90.10000000000001" stroke="#7a8aa0" stroke-width="0.4" opacity="0.5"/>
<line x1="61.7" y1="88.7" x2="61.7" y2="90.10000000000001" stroke="#7a8aa0" stroke-width="0.4" opacity="0.5"/>
<line x1="62.9" y1="88.7" x2="62.9" y2="90.10000000000001" stroke="#7a8aa0" stroke-width="0.4" opacity="0.5"/>
<line x1="68.9" y1="88.7" x2="68.9" y2="90.10000000000001" stroke="#7a8aa0" stroke-width="0.4" opacity="0.5"/>
<line x1="74.9" y1="88.7" x2="74.9" y2="90.10000000000001" stroke="#7a8aa0" stroke-width="0.4" opacity="0.5"/>
<line x1="76.5" y1="88.7" x2="76.5" y2="90.10000000000001" stroke="#7a8aa0" stroke-width="0.4" opacity="0.5"/>
<line x1="84.1" y1="88.7" x2="84.1" y2="90.10000000000001" stroke="#7a8aa0" stroke-width="0.4" opacity="0.5"/>
<line x1="85.7" y1="88.7" x2="85.7" y2="90.10000000000001" stroke="#7a8aa0" stroke-width="0.4" opacity="0.5"/>
<line x1="86.1" y1="88.7" x2="86.1" y2="90.10000000000001" stroke="#7a8aa0" stroke-width="0.4" opacity="0.5"/>
<line x1="87.3" y1="88.7" x2="87.3" y2="90.10000000000001" stroke="#7a8aa0" stroke-width="0.4" opacity="0.5"/>
<line x1="91.3" y1="88.7" x2="91.3" y2="90.10000000000001" stroke="#7a8aa0" stroke-width="0.4" opacity="0.5"/>
<line x1="93.7" y1="88.7" x2="93.7" y2="90.10000000000001" stroke="#7a8aa0" stroke-width="0.4" opacity="0.5"/>
<line x1="94.9" y1="88.7" x2="94.9" y2="90.10000000000001" stroke="#7a8aa0" stroke-width="0.4" opacity="0.5"/>
<line x1="95.3" y1="88.7" x2="95.3" y2="90.10000000000001" stroke="#7a8aa0" stroke-width="0.4" opacity="0.5"/>
<line x1="96.1" y1="88.7" x2="96.1" y2="90.10000000000001" stroke="#7a8aa0" stroke-width="0.4" opacity="0.5"/>
<line x1="96.9" y1="88.7" x2="96.9" y2="90.10000000000001" stroke="#7a8aa0" stroke-width="0.4" opacity="0.5"/>
<line x1="100.1" y1="88.7" x2="100.1" y2="90.10000000000001" stroke="#7a8aa0" stroke-width="0.4" opacity="0.5"/>
<line x1="101.3" y1="88.7" x2="101.3" y2="90.10000000000001" stroke="#7a8aa0" stroke-width="0.4" opacity="0.5"/>
<line x1="102.9" y1="88.7" x2="102.9" y2="90.10000000000001" stroke="#7a8aa0" stroke-width="0.4" opacity="0.5"/>
<line x1="103.3" y1="88.7" x2="103.3" y2="90.10000000000001" stroke="#7a8aa0" stroke-width="0.4" opacity="0.5"/>
<line x1="107.7" y1="88.7" x2="107.7" y2="90.10000000000001" stroke="#7a8aa0" stroke-width="0.4" opacity="0.5"/>
<line x1="108.5" y1="88.7" x2="108.5" y2="90.10000000000001" stroke="#7a8aa0" stroke-width="0.4" opacity="0.5"/>
<line x1="110.1" y1="88.7" x2="110.1" y2="90.10000000000001" stroke="#7a8aa0" stroke-width="0.4" opacity="0.5"/>
<line x1="114.9" y1="88.7" x2="114.9" y2="90.10000000000001" stroke="#7a8aa0" stroke-width="0.4" opacity="0.5"/>
<line x1="24" y1="92.8" x2="117.5" y2="92.8" stroke="#8c8c8c" stroke-width="0.9"/>
<text x="39.3" y="96.9" font-size="2.6" text-anchor="start" fill="#222" stroke="#222" stroke-width="0.0" font-weight="bold">ARGs</text>
<text x="53.5" y="96.9" font-size="2.6" text-anchor="start" fill="#222" stroke="#222" stroke-width="0.0" font-weight="bold">High</text>
<line x1="60" y1="96" x2="82.3" y2="96" stroke="#777" stroke-width="0.4"/>
<text x="82.6" y="96.9" font-size="2.6" text-anchor="start" fill="#222" stroke="#222" stroke-width="0.0" font-weight="bold">Low</text>
<text x="160.9" y="8.00" font-size="8.2" font-weight="bold" fill="#000">B</text>
<line x1="187.4" y1="18.1" x2="190.6" y2="18.1" stroke="#9a9aa8" stroke-width="0.7"/>
<text x="193.5" y="19.2" font-size="3.2" text-anchor="start" fill="#111" stroke="#111" stroke-width="0.0" font-weight="bold" textLength="9.5" lengthAdjust="spacingAndGlyphs">SD/PD</text>
<rect x="204.6" y="17.2" width="1.6" height="1.8" fill="#b8dde6"/>
<text x="209.8" y="19.2" font-size="3.2" text-anchor="start" fill="#111" stroke="#111" stroke-width="0.0" font-weight="bold" textLength="10.2" lengthAdjust="spacingAndGlyphs">CR/PR</text>
<line x1="184.3" y1="23.4" x2="184.3" y2="61.8" stroke="#333" stroke-width="0.55"/>
<line x1="184.3" y1="61.8" x2="224" y2="61.8" stroke="#333" stroke-width="0.55"/>
<line x1="183.3" y1="61.60" x2="184.3" y2="61.60" stroke="#333" stroke-width="0.4"/>
<text x="182.9" y="62.6" font-size="3.0" text-anchor="end" fill="#111" stroke="#111" stroke-width="0.0" font-weight="bold">0.0</text>
<line x1="183.3" y1="53.98" x2="184.3" y2="53.98" stroke="#333" stroke-width="0.4"/>
<text x="182.9" y="54.980000000000004" font-size="3.0" text-anchor="end" fill="#111" stroke="#111" stroke-width="0.0" font-weight="bold">0.2</text>
<line x1="183.3" y1="46.36" x2="184.3" y2="46.36" stroke="#333" stroke-width="0.4"/>
<text x="182.9" y="47.36" font-size="3.0" text-anchor="end" fill="#111" stroke="#111" stroke-width="0.0" font-weight="bold">0.4</text>
<line x1="183.3" y1="38.74" x2="184.3" y2="38.74" stroke="#333" stroke-width="0.4"/>
<text x="182.9" y="39.74" font-size="3.0" text-anchor="end" fill="#111" stroke="#111" stroke-width="0.0" font-weight="bold">0.6</text>
<line x1="183.3" y1="31.12" x2="184.3" y2="31.12" stroke="#333" stroke-width="0.4"/>
<text x="182.9" y="32.120000000000005" font-size="3.0" text-anchor="end" fill="#111" stroke="#111" stroke-width="0.0" font-weight="bold">0.8</text>
<line x1="183.3" y1="23.50" x2="184.3" y2="23.50" stroke="#333" stroke-width="0.4"/>
<text x="182.9" y="24.5" font-size="3.0" text-anchor="end" fill="#111" stroke="#111" stroke-width="0.0" font-weight="bold">1.0</text>
<text x="177.3" y="42.5" font-size="2.9" text-anchor="middle" fill="#111" stroke="#111" stroke-width="0.0" font-weight="bold" transform="rotate(-90 177.3 42.5)" textLength="37" lengthAdjust="spacingAndGlyphs">Relative Percent(%) (100%)</text>
<rect x="191" y="23.7" width="10.1" height="24.2" fill="#b89bd0"/>
<rect x="191" y="47.9" width="10.1" height="13.9" fill="#bfe5e8"/>
<rect x="207.9" y="23.7" width="9.9" height="15.6" fill="#b89bd0"/>
<rect x="207.9" y="39.3" width="9.9" height="22.5" fill="#bfe5e8"/>
<text x="196.05" y="36.4" font-size="3.0" text-anchor="middle" fill="#3c1f66" stroke="#3c1f66" stroke-width="0.0" font-weight="bold">64%</text>
<text x="196.05" y="55.7" font-size="3.0" text-anchor="middle" fill="#1a5670" stroke="#1a5670" stroke-width="0.0" font-weight="bold">36%</text>
<text x="212.85" y="33.6" font-size="3.0" text-anchor="middle" fill="#3c1f66" stroke="#3c1f66" stroke-width="0.0" font-weight="bold">40%</text>
<text x="212.85" y="51.6" font-size="3.0" text-anchor="middle" fill="#1a5670" stroke="#1a5670" stroke-width="0.0" font-weight="bold">60%</text>
<text x="171.7" y="68.7" font-size="3.1" text-anchor="start" fill="#111" stroke="#111" stroke-width="0.0" font-weight="bold" textLength="17.3" lengthAdjust="spacingAndGlyphs">ARGs score</text>
<text x="197.8" y="64.2" font-size="3.1" text-anchor="end" fill="#111" stroke="#111" stroke-width="0.0" font-weight="bold" transform="rotate(-45 197.8 64.2)">Low</text>
<text x="214.5" y="64.2" font-size="3.1" text-anchor="end" fill="#111" stroke="#111" stroke-width="0.0" font-weight="bold" transform="rotate(-45 214.5 64.2)">High</text>
<text x="226.2" y="7.50" font-size="8.2" font-weight="bold" fill="#000">C</text>
<text x="240.9" y="18.3" font-size="3.1" text-anchor="start" fill="#111" stroke="#111" stroke-width="0.0" font-weight="bold" textLength="17.3" lengthAdjust="spacingAndGlyphs">ARGs score</text>
<line x1="260.1" y1="17.2" x2="263" y2="17.2" stroke="#566cc0" stroke-width="1.0"/>
<text x="266" y="18.3" font-size="3.1" text-anchor="start" fill="#111" stroke="#111" stroke-width="0.0" font-weight="bold" textLength="4.3" lengthAdjust="spacingAndGlyphs">Low</text>
<line x1="273.8" y1="17.2" x2="277" y2="17.2" stroke="#ec5c42" stroke-width="1.0"/>
<text x="279.6" y="18.3" font-size="3.1" text-anchor="start" fill="#111" stroke="#111" stroke-width="0.0" font-weight="bold" textLength="6.5" lengthAdjust="spacingAndGlyphs">High</text>
<line x1="250" y1="22.7" x2="250" y2="61.5" stroke="#444" stroke-width="0.6"/>
<line x1="250" y1="61.5" x2="289" y2="61.5" stroke="#444" stroke-width="0.6"/>
<line x1="249" y1="22.9" x2="250" y2="22.9" stroke="#444" stroke-width="0.4"/>
<text x="248.5" y="23.799999999999997" font-size="2.6" text-anchor="end" fill="#222" stroke="#222" stroke-width="0.0" font-weight="bold">100</text>
<line x1="249" y1="42.2" x2="250" y2="42.2" stroke="#444" stroke-width="0.4"/>
<text x="248.5" y="43.1" font-size="2.6" text-anchor="end" fill="#222" stroke="#222" stroke-width="0.0" font-weight="bold">50</text>
<line x1="249" y1="61.5" x2="250" y2="61.5" stroke="#444" stroke-width="0.4"/>
<text x="248.5" y="62.4" font-size="2.6" text-anchor="end" fill="#222" stroke="#222" stroke-width="0.0" font-weight="bold">0</text>
<text x="242.2" y="41" font-size="3.0" text-anchor="middle" fill="#222" stroke="#222" stroke-width="0.0" font-weight="bold" transform="rotate(-90 242.2 41)" textLength="20.4" lengthAdjust="spacingAndGlyphs">Percentage(%)</text>
<rect x="253.6" y="23.3" width="5.5" height="24.9" fill="#566cc0"/>
<rect x="253.6" y="48.5" width="5.5" height="13.0" fill="#ec5c42"/>
<text x="257.55" y="64.3" font-size="2.8" text-anchor="end" fill="#111" stroke="#111" stroke-width="0.0" font-weight="bold" transform="rotate(-45 257.55 64.3)">CR</text>
<rect x="263.3" y="23.3" width="5.4" height="14.9" fill="#566cc0"/>
<rect x="263.3" y="38.5" width="5.4" height="23.0" fill="#ec5c42"/>
<text x="267.2" y="64.3" font-size="2.8" text-anchor="end" fill="#111" stroke="#111" stroke-width="0.0" font-weight="bold" transform="rotate(-45 267.2 64.3)">PR</text>
<rect x="272.7" y="23.3" width="5.5" height="38.2" fill="#566cc0"/>
<text x="276.65" y="64.3" font-size="2.8" text-anchor="end" fill="#111" stroke="#111" stroke-width="0.0" font-weight="bold" transform="rotate(-45 276.65 64.3)">SD</text>
<rect x="282.2" y="23.3" width="5.4" height="14.9" fill="#566cc0"/>
<rect x="282.2" y="38.5" width="5.4" height="23.0" fill="#ec5c42"/>
<text x="286.09999999999997" y="64.3" font-size="2.8" text-anchor="end" fill="#111" stroke="#111" stroke-width="0.0" font-weight="bold" transform="rotate(-45 286.09999999999997 64.3)">PD</text>
<text x="293.4" y="8.40" font-size="8.2" font-weight="bold" fill="#000">D</text>
<defs>
<clipPath id="ve0"><ellipse cx="335.50" cy="54.00" rx="37.60" ry="21.50" transform="rotate(45 335.50 54.00)"/></clipPath>
<clipPath id="ve1"><ellipse cx="351.90" cy="43.00" rx="36.30" ry="17.50" transform="rotate(45 351.90 43.00)"/></clipPath>
<clipPath id="ve2"><ellipse cx="350.60" cy="42.80" rx="35.40" ry="17.00" transform="rotate(-45 350.60 42.80)"/></clipPath>
<clipPath id="ve3"><ellipse cx="367.20" cy="53.90" rx="37.60" ry="21.50" transform="rotate(-45 367.20 53.90)"/></clipPath>
</defs>
<g clip-path="url(#ve0)"><rect x="295" y="5" width="105" height="90" fill="rgb(241, 146, 114)"/></g>
<g clip-path="url(#ve1)"><rect x="295" y="5" width="105" height="90" fill="rgb(185, 225, 238)"/></g>
<g clip-path="url(#ve2)"><rect x="295" y="5" width="105" height="90" fill="rgb(165, 148, 215)"/></g>
<g clip-path="url(#ve3)"><rect x="295" y="5" width="105" height="90" fill="rgb(208, 227, 152)"/></g>
<g clip-path="url(#ve0)"><g clip-path="url(#ve1)"><rect x="295" y="5" width="105" height="90" fill="rgb(198, 185, 170)"/></g></g>
<g clip-path="url(#ve0)"><g clip-path="url(#ve2)"><rect x="295" y="5" width="105" height="90" fill="rgb(172, 100, 160)"/></g></g>
<g clip-path="url(#ve0)"><g clip-path="url(#ve3)"><rect x="295" y="5" width="105" height="90" fill="rgb(231, 145, 75)"/></g></g>
<g clip-path="url(#ve1)"><g clip-path="url(#ve2)"><rect x="295" y="5" width="105" height="90" fill="rgb(132, 165, 208)"/></g></g>
<g clip-path="url(#ve1)"><g clip-path="url(#ve3)"><rect x="295" y="5" width="105" height="90" fill="rgb(145, 210, 192)"/></g></g>
<g clip-path="url(#ve2)"><g clip-path="url(#ve3)"><rect x="295" y="5" width="105" height="90" fill="rgb(142, 140, 178)"/></g></g>
<g clip-path="url(#ve0)"><g clip-path="url(#ve1)"><g clip-path="url(#ve2)"><rect x="295" y="5" width="105" height="90" fill="rgb(150, 160, 185)"/></g></g></g>
<g clip-path="url(#ve0)"><g clip-path="url(#ve1)"><g clip-path="url(#ve3)"><rect x="295" y="5" width="105" height="90" fill="rgb(192, 185, 160)"/></g></g></g>
<g clip-path="url(#ve0)"><g clip-path="url(#ve2)"><g clip-path="url(#ve3)"><rect x="295" y="5" width="105" height="90" fill="rgb(170, 108, 140)"/></g></g></g>
<g clip-path="url(#ve1)"><g clip-path="url(#ve2)"><g clip-path="url(#ve3)"><rect x="295" y="5" width="105" height="90" fill="rgb(128, 178, 198)"/></g></g></g>
<g clip-path="url(#ve0)"><g clip-path="url(#ve1)"><g clip-path="url(#ve2)"><g clip-path="url(#ve3)"><rect x="295" y="5" width="105" height="90" fill="rgb(138, 158, 178)"/></g></g></g></g>
<ellipse cx="335.50" cy="54.00" rx="37.60" ry="21.50" transform="rotate(45 335.50 54.00)" fill="none" stroke="#2a2a2a" stroke-width="0.65"/>
<ellipse cx="351.90" cy="43.00" rx="36.30" ry="17.50" transform="rotate(45 351.90 43.00)" fill="none" stroke="#2a2a2a" stroke-width="0.65"/>
<ellipse cx="350.60" cy="42.80" rx="35.40" ry="17.00" transform="rotate(-45 350.60 42.80)" fill="none" stroke="#2a2a2a" stroke-width="0.65"/>
<ellipse cx="367.20" cy="53.90" rx="37.60" ry="21.50" transform="rotate(-45 367.20 53.90)" fill="none" stroke="#2a2a2a" stroke-width="0.65"/>
<text x="305.5" y="20.8" font-size="3.4" text-anchor="start" fill="#111" stroke="#111" stroke-width="0.0" font-weight="bold" textLength="12.2" lengthAdjust="spacingAndGlyphs">All drugs</text>
<text x="329.4" y="11.1" font-size="3.4" text-anchor="start" fill="#111" stroke="#111" stroke-width="0.0" font-weight="bold" textLength="10.9" lengthAdjust="spacingAndGlyphs">L drugs</text>
<text x="365.4" y="12.2" font-size="3.4" text-anchor="start" fill="#111" stroke="#111" stroke-width="0.0" font-weight="bold" textLength="12.0" lengthAdjust="spacingAndGlyphs">D drugs</text>
<text x="385.0" y="19.9" font-size="3.4" text-anchor="start" fill="#111" stroke="#111" stroke-width="0.0" font-weight="bold" textLength="11.7" lengthAdjust="spacingAndGlyphs">H drugs</text>
<text x="335.4" y="22.9" font-size="2.8" text-anchor="middle" fill="#111" stroke="#111" stroke-width="0.0" font-weight="bold">5</text>
<text x="367.3" y="25.4" font-size="2.8" text-anchor="middle" fill="#111" stroke="#111" stroke-width="0.0" font-weight="bold">8</text>
<text x="316.9" y="42.8" font-size="2.8" text-anchor="middle" fill="#111" stroke="#111" stroke-width="0.0" font-weight="bold">88</text>
<text x="385.8" y="42.8" font-size="2.8" text-anchor="middle" fill="#111" stroke="#111" stroke-width="0.0" font-weight="bold">8</text>
<text x="332.2" y="33.2" font-size="2.8" text-anchor="middle" fill="#111" stroke="#111" stroke-width="0.0" font-weight="bold">0</text>
<text x="351.8" y="31.9" font-size="2.8" text-anchor="middle" fill="#111" stroke="#111" stroke-width="0.0" font-weight="bold">3</text>
<text x="372.2" y="33.2" font-size="2.8" text-anchor="middle" fill="#111" stroke="#111" stroke-width="0.0" font-weight="bold">2</text>
<text x="340.3" y="42.8" font-size="2.8" text-anchor="middle" fill="#111" stroke="#111" stroke-width="0.0" font-weight="bold">98</text>
<text x="362.7" y="44.1" font-size="2.8" text-anchor="middle" fill="#111" stroke="#111" stroke-width="0.0" font-weight="bold">0</text>
<text x="351.8" y="55.0" font-size="2.8" text-anchor="middle" fill="#111" stroke="#111" stroke-width="0.0" font-weight="bold">5</text>
<text x="332.2" y="60.0" font-size="2.8" text-anchor="middle" fill="#111" stroke="#111" stroke-width="0.0" font-weight="bold">0</text>
<text x="371.4" y="60.0" font-size="2.8" text-anchor="middle" fill="#111" stroke="#111" stroke-width="0.0" font-weight="bold">3</text>
<text x="343.6" y="64.6" font-size="2.8" text-anchor="middle" fill="#111" stroke="#111" stroke-width="0.0" font-weight="bold">24</text>
<text x="360" y="64.6" font-size="2.8" text-anchor="middle" fill="#111" stroke="#111" stroke-width="0.0" font-weight="bold">4</text>
<text x="351.8" y="74.1" font-size="2.8" text-anchor="middle" fill="#111" stroke="#111" stroke-width="0.0" font-weight="bold">0</text>
<text x="1.8" y="107.90" font-size="8.2" font-weight="bold" fill="#000">E</text>
<text x="31.5" y="108.9" font-size="3.3" text-anchor="start" fill="#111" stroke="#111" stroke-width="0.0" font-weight="bold" textLength="16.5" lengthAdjust="spacingAndGlyphs">ARGs score</text>
<ellipse cx="52.3" cy="107.7" rx="1.8" ry="1.25" fill="#2a4585" stroke="#1a2a55" stroke-width="0.5"/>
<text x="55.5" y="108.9" font-size="3.3" text-anchor="start" fill="#111" stroke="#111" stroke-width="0.0" font-weight="bold" textLength="4.6" lengthAdjust="spacingAndGlyphs">Low</text>
<ellipse cx="65.4" cy="107.7" rx="1.8" ry="1.25" fill="#9a1a22" stroke="#5a0e12" stroke-width="0.5"/>
<text x="68.6" y="108.9" font-size="3.3" text-anchor="start" fill="#111" stroke="#111" stroke-width="0.0" font-weight="bold" textLength="6.4" lengthAdjust="spacingAndGlyphs">High</text>
<line x1="12.3" y1="115" x2="12.3" y2="179.5" stroke="#333" stroke-width="0.5"/>
<line x1="12.3" y1="179.5" x2="96.3" y2="179.5" stroke="#333" stroke-width="0.5"/>
<line x1="11.3" y1="119.2" x2="12.3" y2="119.2" stroke="#333" stroke-width="0.5"/>
<text x="10.700000000000001" y="120.3" font-size="3.1" text-anchor="end" fill="#222" stroke="#222" stroke-width="0.0" font-weight="bold">4.5</text>
<line x1="11.3" y1="131.9" x2="12.3" y2="131.9" stroke="#333" stroke-width="0.5"/>
<text x="10.700000000000001" y="133.0" font-size="3.1" text-anchor="end" fill="#222" stroke="#222" stroke-width="0.0" font-weight="bold">4.0</text>
<line x1="11.3" y1="144.5" x2="12.3" y2="144.5" stroke="#333" stroke-width="0.5"/>
<text x="10.700000000000001" y="145.6" font-size="3.1" text-anchor="end" fill="#222" stroke="#222" stroke-width="0.0" font-weight="bold">3.5</text>
<line x1="11.3" y1="157.8" x2="12.3" y2="157.8" stroke="#333" stroke-width="0.5"/>
<text x="10.700000000000001" y="158.9" font-size="3.1" text-anchor="end" fill="#222" stroke="#222" stroke-width="0.0" font-weight="bold">3.0</text>
<line x1="11.3" y1="170.5" x2="12.3" y2="170.5" stroke="#333" stroke-width="0.5"/>
<text x="10.700000000000001" y="171.6" font-size="3.1" text-anchor="end" fill="#222" stroke="#222" stroke-width="0.0" font-weight="bold">2.5</text>
<text x="5.6" y="142" font-size="3.0" text-anchor="middle" fill="#222" stroke="#222" stroke-width="0.0" font-weight="bold" transform="rotate(-90 5.6 142)" textLength="26" lengthAdjust="spacingAndGlyphs">Axitinib sensitivity (IC50)</text>
<line x1="35.65" y1="134.2" x2="35.65" y2="176.5" stroke="#3a3a3a" stroke-width="0.45"/>
<rect x="22.3" y="147.6" width="26.7" height="13.200000000000017" fill="#3367ad" stroke="#1d3566" stroke-width="0.6"/>
<line x1="22.3" y1="156.6" x2="49" y2="156.6" stroke="#1d3566" stroke-width="1.0"/>
<circle cx="35.65" cy="119.8" r="0.85" fill="#111"/>
<text x="35.65" y="183.4" font-size="3.2" text-anchor="middle" fill="#111" stroke="#111" stroke-width="0.0" font-weight="bold">Low</text>
<line x1="73.6" y1="124.2" x2="73.6" y2="154.5" stroke="#3a3a3a" stroke-width="0.45"/>
<rect x="60.2" y="136" width="26.799999999999997" height="11.900000000000006" fill="#e31a23" stroke="#8c1016" stroke-width="0.6"/>
<line x1="60.2" y1="142" x2="87" y2="142" stroke="#8c1016" stroke-width="1.0"/>
<text x="73.6" y="183.4" font-size="3.2" text-anchor="middle" fill="#111" stroke="#111" stroke-width="0.0" font-weight="bold">High</text>
<polyline points="35.65,119.10000000000001 35.65,117.7 73.6,117.7 73.6,119.10000000000001" fill="none" stroke="#777" stroke-width="0.5"/>
<text x="54.625" y="117.0" font-size="3.1" text-anchor="middle" fill="#111" stroke="#111" stroke-width="0.0" font-weight="bold">2.91e-14</text>
<text x="101.8" y="106.60" font-size="8.2" font-weight="bold" fill="#000">F</text>
<text x="129.9" y="109.0" font-size="3.3" text-anchor="start" fill="#111" stroke="#111" stroke-width="0.0" font-weight="bold" textLength="16.5" lengthAdjust="spacingAndGlyphs">ARGs score</text>
<ellipse cx="150.70000000000002" cy="107.8" rx="1.8" ry="1.25" fill="#2a4585" stroke="#1a2a55" stroke-width="0.5"/>
<text x="153.9" y="109.0" font-size="3.3" text-anchor="start" fill="#111" stroke="#111" stroke-width="0.0" font-weight="bold" textLength="4.6" lengthAdjust="spacingAndGlyphs">Low</text>
<ellipse cx="163.8" cy="107.8" rx="1.8" ry="1.25" fill="#9a1a22" stroke="#5a0e12" stroke-width="0.5"/>
<text x="167.0" y="109.0" font-size="3.3" text-anchor="start" fill="#111" stroke="#111" stroke-width="0.0" font-weight="bold" textLength="6.4" lengthAdjust="spacingAndGlyphs">High</text>
<line x1="109.5" y1="114.7" x2="109.5" y2="179.3" stroke="#333" stroke-width="0.5"/>
<line x1="109.5" y1="179.3" x2="196" y2="179.3" stroke="#333" stroke-width="0.5"/>
<line x1="108.5" y1="126.5" x2="109.5" y2="126.5" stroke="#333" stroke-width="0.5"/>
<text x="107.9" y="127.6" font-size="3.1" text-anchor="end" fill="#222" stroke="#222" stroke-width="0.0" font-weight="bold">8</text>
<line x1="108.5" y1="141.5" x2="109.5" y2="141.5" stroke="#333" stroke-width="0.5"/>
<text x="107.9" y="142.6" font-size="3.1" text-anchor="end" fill="#222" stroke="#222" stroke-width="0.0" font-weight="bold">6</text>
<line x1="108.5" y1="157.4" x2="109.5" y2="157.4" stroke="#333" stroke-width="0.5"/>
<text x="107.9" y="158.5" font-size="3.1" text-anchor="end" fill="#222" stroke="#222" stroke-width="0.0" font-weight="bold">4</text>
<line x1="108.5" y1="172.9" x2="109.5" y2="172.9" stroke="#333" stroke-width="0.5"/>
<text x="107.9" y="174.0" font-size="3.1" text-anchor="end" fill="#222" stroke="#222" stroke-width="0.0" font-weight="bold">2</text>
<text x="104.3" y="144.5" font-size="3.0" text-anchor="middle" fill="#222" stroke="#222" stroke-width="0.0" font-weight="bold" transform="rotate(-90 104.3 144.5)" textLength="28" lengthAdjust="spacingAndGlyphs">Nutlin.3a sensitivity (IC50)</text>
<line x1="133.15" y1="133.9" x2="133.15" y2="167" stroke="#3a3a3a" stroke-width="0.45"/>
<rect x="119.3" y="145.6" width="27.700000000000003" height="10.099999999999994" fill="#3367ad" stroke="#1d3566" stroke-width="0.6"/>
<line x1="119.3" y1="151.3" x2="147" y2="151.3" stroke="#1d3566" stroke-width="1.0"/>
<circle cx="133.15" cy="119.5" r="0.85" fill="#111"/>
<circle cx="133.15" cy="127" r="0.85" fill="#111"/>
<circle cx="133.15" cy="128.8" r="0.85" fill="#111"/>
<circle cx="133.15" cy="173.6" r="0.85" fill="#111"/>
<circle cx="133.15" cy="175.7" r="0.85" fill="#111"/>
<text x="133.15" y="183.20000000000002" font-size="3.2" text-anchor="middle" fill="#111" stroke="#111" stroke-width="0.0" font-weight="bold">Low</text>
<line x1="172.5" y1="118.5" x2="172.5" y2="166" stroke="#3a3a3a" stroke-width="0.45"/>
<rect x="158.9" y="134.8" width="27.19999999999999" height="12.5" fill="#e31a23" stroke="#8c1016" stroke-width="0.6"/>
<line x1="158.9" y1="141.2" x2="186.1" y2="141.2" stroke="#8c1016" stroke-width="1.0"/>
<circle cx="172.5" cy="171.3" r="0.85" fill="#111"/>
<text x="172.5" y="183.20000000000002" font-size="3.2" text-anchor="middle" fill="#111" stroke="#111" stroke-width="0.0" font-weight="bold">High</text>
<polyline points="133.15,119.30000000000001 133.15,117.9 172.5,117.9 172.5,119.30000000000001" fill="none" stroke="#777" stroke-width="0.5"/>
<text x="152.825" y="117.2" font-size="3.1" text-anchor="middle" fill="#111" stroke="#111" stroke-width="0.0" font-weight="bold">3.29e-11</text>
<text x="200" y="107.00" font-size="8.2" font-weight="bold" fill="#000">G</text>
<text x="232.4" y="108.9" font-size="3.3" text-anchor="start" fill="#111" stroke="#111" stroke-width="0.0" font-weight="bold" textLength="16.5" lengthAdjust="spacingAndGlyphs">ARGs score</text>
<ellipse cx="253.20000000000002" cy="107.7" rx="1.8" ry="1.25" fill="#2a4585" stroke="#1a2a55" stroke-width="0.5"/>
<text x="256.4" y="108.9" font-size="3.3" text-anchor="start" fill="#111" stroke="#111" stroke-width="0.0" font-weight="bold" textLength="4.6" lengthAdjust="spacingAndGlyphs">Low</text>
<ellipse cx="266.3" cy="107.7" rx="1.8" ry="1.25" fill="#9a1a22" stroke="#5a0e12" stroke-width="0.5"/>
<text x="269.5" y="108.9" font-size="3.3" text-anchor="start" fill="#111" stroke="#111" stroke-width="0.0" font-weight="bold" textLength="6.4" lengthAdjust="spacingAndGlyphs">High</text>
<line x1="213.3" y1="115.1" x2="213.3" y2="179.3" stroke="#333" stroke-width="0.5"/>
<line x1="213.3" y1="179.3" x2="297" y2="179.3" stroke="#333" stroke-width="0.5"/>
<line x1="212.3" y1="120.8" x2="213.3" y2="120.8" stroke="#333" stroke-width="0.5"/>
<text x="211.70000000000002" y="121.89999999999999" font-size="3.1" text-anchor="end" fill="#222" stroke="#222" stroke-width="0.0" font-weight="bold">5.5</text>
<line x1="212.3" y1="134.8" x2="213.3" y2="134.8" stroke="#333" stroke-width="0.5"/>
<text x="211.70000000000002" y="135.9" font-size="3.1" text-anchor="end" fill="#222" stroke="#222" stroke-width="0.0" font-weight="bold">5.0</text>
<line x1="212.3" y1="149.3" x2="213.3" y2="149.3" stroke="#333" stroke-width="0.5"/>
<text x="211.70000000000002" y="150.4" font-size="3.1" text-anchor="end" fill="#222" stroke="#222" stroke-width="0.0" font-weight="bold">4.5</text>
<line x1="212.3" y1="164.5" x2="213.3" y2="164.5" stroke="#333" stroke-width="0.5"/>
<text x="211.70000000000002" y="165.6" font-size="3.1" text-anchor="end" fill="#222" stroke="#222" stroke-width="0.0" font-weight="bold">4.0</text>
<line x1="212.3" y1="178.5" x2="213.3" y2="178.5" stroke="#333" stroke-width="0.5"/>
<text x="211.70000000000002" y="179.6" font-size="3.1" text-anchor="end" fill="#222" stroke="#222" stroke-width="0.0" font-weight="bold">3.5</text>
<text x="205" y="145.4" font-size="3.0" text-anchor="middle" fill="#222" stroke="#222" stroke-width="0.0" font-weight="bold" transform="rotate(-90 205 145.4)" textLength="30" lengthAdjust="spacingAndGlyphs">AKT inhibitor sensitivity (IC50)</text>
<line x1="236.2" y1="134.8" x2="236.2" y2="164.5" stroke="#3a3a3a" stroke-width="0.45"/>
<rect x="222.7" y="144.1" width="27.0" height="8.700000000000017" fill="#3367ad" stroke="#1d3566" stroke-width="0.6"/>
<line x1="222.7" y1="148.3" x2="249.7" y2="148.3" stroke="#1d3566" stroke-width="1.0"/>
<circle cx="236.2" cy="176.3" r="0.85" fill="#111"/>
<rect x="235.39999999999998" y="166" width="1.6" height="8.199999999999989" rx="0.8" fill="#111"/>
<text x="236.2" y="183.20000000000002" font-size="3.2" text-anchor="middle" fill="#111" stroke="#111" stroke-width="0.0" font-weight="bold">Low</text>
<line x1="274.5" y1="117.6" x2="274.5" y2="157.1" stroke="#3a3a3a" stroke-width="0.45"/>
<rect x="261" y="134.2" width="27" height="12.400000000000006" fill="#e31a23" stroke="#8c1016" stroke-width="0.6"/>
<line x1="261" y1="139.4" x2="288" y2="139.4" stroke="#8c1016" stroke-width="1.0"/>
<text x="274.5" y="183.20000000000002" font-size="3.2" text-anchor="middle" fill="#111" stroke="#111" stroke-width="0.0" font-weight="bold">High</text>
<polyline points="236.2,119.0 236.2,117.6 274.5,117.6 274.5,119.0" fill="none" stroke="#777" stroke-width="0.5"/>
<text x="255.35" y="116.89999999999999" font-size="3.1" text-anchor="middle" fill="#111" stroke="#111" stroke-width="0.0" font-weight="bold">6.40e-14</text>
<text x="299.6" y="104.10" font-size="8.2" font-weight="bold" fill="#000">H</text>
<text x="328.8" y="107.4" font-size="3.3" text-anchor="start" fill="#111" stroke="#111" stroke-width="0.0" font-weight="bold" textLength="16.5" lengthAdjust="spacingAndGlyphs">ARGs score</text>
<ellipse cx="349.6" cy="106.2" rx="1.8" ry="1.25" fill="#2a4585" stroke="#1a2a55" stroke-width="0.5"/>
<text x="352.8" y="107.4" font-size="3.3" text-anchor="start" fill="#111" stroke="#111" stroke-width="0.0" font-weight="bold" textLength="4.6" lengthAdjust="spacingAndGlyphs">Low</text>
<ellipse cx="362.7" cy="106.2" rx="1.8" ry="1.25" fill="#9a1a22" stroke="#5a0e12" stroke-width="0.5"/>
<text x="365.90000000000003" y="107.4" font-size="3.3" text-anchor="start" fill="#111" stroke="#111" stroke-width="0.0" font-weight="bold" textLength="6.4" lengthAdjust="spacingAndGlyphs">High</text>
<line x1="310.3" y1="113.1" x2="310.3" y2="177.2" stroke="#333" stroke-width="0.5"/>
<line x1="310.3" y1="177.2" x2="396" y2="177.2" stroke="#333" stroke-width="0.5"/>
<line x1="309.3" y1="125.2" x2="310.3" y2="125.2" stroke="#333" stroke-width="0.5"/>
<text x="308.7" y="126.3" font-size="3.1" text-anchor="end" fill="#222" stroke="#222" stroke-width="0.0" font-weight="bold">4.5</text>
<line x1="309.3" y1="140" x2="310.3" y2="140" stroke="#333" stroke-width="0.5"/>
<text x="308.7" y="141.1" font-size="3.1" text-anchor="end" fill="#222" stroke="#222" stroke-width="0.0" font-weight="bold">4.0</text>
<line x1="309.3" y1="155" x2="310.3" y2="155" stroke="#333" stroke-width="0.5"/>
<text x="308.7" y="156.1" font-size="3.1" text-anchor="end" fill="#222" stroke="#222" stroke-width="0.0" font-weight="bold">3.5</text>
<line x1="309.3" y1="169.5" x2="310.3" y2="169.5" stroke="#333" stroke-width="0.5"/>
<text x="308.7" y="170.6" font-size="3.1" text-anchor="end" fill="#222" stroke="#222" stroke-width="0.0" font-weight="bold">3.0</text>
<text x="303" y="140.4" font-size="3.0" text-anchor="middle" fill="#222" stroke="#222" stroke-width="0.0" font-weight="bold" transform="rotate(-90 303 140.4)" textLength="32" lengthAdjust="spacingAndGlyphs">PD.173074 sensitivity (IC50)</text>
<line x1="333.20000000000005" y1="123.5" x2="333.20000000000005" y2="160.5" stroke="#3a3a3a" stroke-width="0.45"/>
<rect x="319.8" y="137.2" width="26.80000000000001" height="10.5" fill="#3367ad" stroke="#1d3566" stroke-width="0.6"/>
<line x1="319.8" y1="142.3" x2="346.6" y2="142.3" stroke="#1d3566" stroke-width="1.0"/>
<circle cx="333.20000000000005" cy="163.7" r="0.85" fill="#111"/>
<circle cx="333.20000000000005" cy="173.7" r="0.85" fill="#111"/>
<text x="333.20000000000005" y="181.3" font-size="3.2" text-anchor="middle" fill="#111" stroke="#111" stroke-width="0.0" font-weight="bold">Low</text>
<line x1="371.29999999999995" y1="116" x2="371.29999999999995" y2="143.5" stroke="#3a3a3a" stroke-width="0.45"/>
<rect x="357.9" y="129.2" width="26.80000000000001" height="7.700000000000017" fill="#e31a23" stroke="#8c1016" stroke-width="0.6"/>
<line x1="357.9" y1="132.6" x2="384.7" y2="132.6" stroke="#8c1016" stroke-width="1.0"/>
<text x="371.29999999999995" y="181.3" font-size="3.2" text-anchor="middle" fill="#111" stroke="#111" stroke-width="0.0" font-weight="bold">High</text>
<polyline points="333.20000000000005,117.4 333.20000000000005,116 371.29999999999995,116 371.29999999999995,117.4" fill="none" stroke="#777" stroke-width="0.5"/>
<text x="352.25" y="115.3" font-size="3.1" text-anchor="middle" fill="#111" stroke="#111" stroke-width="0.0" font-weight="bold">6.1e-11</text>
<text x="2.2" y="196.60" font-size="8.2" font-weight="bold" fill="#000">I</text>
<text x="29.8" y="198.29999999999998" font-size="3.3" text-anchor="start" fill="#111" stroke="#111" stroke-width="0.0" font-weight="bold" textLength="16.5" lengthAdjust="spacingAndGlyphs">ARGs score</text>
<ellipse cx="50.6" cy="197.1" rx="1.8" ry="1.25" fill="#2a4585" stroke="#1a2a55" stroke-width="0.5"/>
<text x="53.8" y="198.29999999999998" font-size="3.3" text-anchor="start" fill="#111" stroke="#111" stroke-width="0.0" font-weight="bold" textLength="4.6" lengthAdjust="spacingAndGlyphs">Low</text>
<ellipse cx="63.7" cy="197.1" rx="1.8" ry="1.25" fill="#9a1a22" stroke="#5a0e12" stroke-width="0.5"/>
<text x="66.9" y="198.29999999999998" font-size="3.3" text-anchor="start" fill="#111" stroke="#111" stroke-width="0.0" font-weight="bold" textLength="6.4" lengthAdjust="spacingAndGlyphs">High</text>
<line x1="9.1" y1="204.1" x2="9.1" y2="268.4" stroke="#333" stroke-width="0.5"/>
<line x1="9.1" y1="268.4" x2="95.8" y2="268.4" stroke="#333" stroke-width="0.5"/>
<line x1="8.1" y1="213.4" x2="9.1" y2="213.4" stroke="#333" stroke-width="0.5"/>
<text x="7.5" y="214.5" font-size="3.1" text-anchor="end" fill="#222" stroke="#222" stroke-width="0.0" font-weight="bold">8</text>
<line x1="8.1" y1="233.5" x2="9.1" y2="233.5" stroke="#333" stroke-width="0.5"/>
<text x="7.5" y="234.6" font-size="3.1" text-anchor="end" fill="#222" stroke="#222" stroke-width="0.0" font-weight="bold">6</text>
<line x1="8.1" y1="253.2" x2="9.1" y2="253.2" stroke="#333" stroke-width="0.5"/>
<text x="7.5" y="254.29999999999998" font-size="3.1" text-anchor="end" fill="#222" stroke="#222" stroke-width="0.0" font-weight="bold">4</text>
<text x="3.0" y="234.3" font-size="3.0" text-anchor="middle" fill="#222" stroke="#222" stroke-width="0.0" font-weight="bold" transform="rotate(-90 3.0 234.3)" textLength="35.7" lengthAdjust="spacingAndGlyphs">RDEA119 sensitivity (IC50)</text>
<line x1="32.8" y1="229" x2="32.8" y2="263.3" stroke="#3a3a3a" stroke-width="0.45"/>
<rect x="19" y="243.2" width="27.6" height="8.800000000000011" fill="#3367ad" stroke="#1d3566" stroke-width="0.6"/>
<line x1="19" y1="248.6" x2="46.6" y2="248.6" stroke="#1d3566" stroke-width="1.0"/>
<circle cx="32.8" cy="209.4" r="0.85" fill="#111"/>
<circle cx="32.8" cy="211.5" r="0.85" fill="#111"/>
<circle cx="32.8" cy="216.6" r="0.85" fill="#111"/>
<circle cx="32.8" cy="220.8" r="0.85" fill="#111"/>
<circle cx="32.8" cy="225.9" r="0.85" fill="#111"/>
<text x="32.8" y="272.09999999999997" font-size="3.2" text-anchor="middle" fill="#111" stroke="#111" stroke-width="0.0" font-weight="bold">Low</text>
<line x1="72.0" y1="244" x2="72.0" y2="265.8" stroke="#3a3a3a" stroke-width="0.45"/>
<rect x="58" y="249.5" width="28" height="8.300000000000011" fill="#e31a23" stroke="#8c1016" stroke-width="0.6"/>
<line x1="58" y1="252.7" x2="86" y2="252.7" stroke="#8c1016" stroke-width="1.0"/>
<text x="72.0" y="272.09999999999997" font-size="3.2" text-anchor="middle" fill="#111" stroke="#111" stroke-width="0.0" font-weight="bold">High</text>
<polyline points="32.8,207.8 32.8,206.4 72.0,206.4 72.0,207.8" fill="none" stroke="#777" stroke-width="0.5"/>
<text x="52.4" y="205.70000000000002" font-size="3.1" text-anchor="middle" fill="#111" stroke="#111" stroke-width="0.0" font-weight="bold">1.50e-10</text>
<text x="101.5" y="195.40" font-size="8.2" font-weight="bold" fill="#000">J</text>
<text x="129.2" y="198.29999999999998" font-size="3.3" text-anchor="start" fill="#111" stroke="#111" stroke-width="0.0" font-weight="bold" textLength="16.5" lengthAdjust="spacingAndGlyphs">ARGs score</text>
<ellipse cx="150.0" cy="197.1" rx="1.8" ry="1.25" fill="#2a4585" stroke="#1a2a55" stroke-width="0.5"/>
<text x="153.2" y="198.29999999999998" font-size="3.3" text-anchor="start" fill="#111" stroke="#111" stroke-width="0.0" font-weight="bold" textLength="4.6" lengthAdjust="spacingAndGlyphs">Low</text>
<ellipse cx="163.1" cy="197.1" rx="1.8" ry="1.25" fill="#9a1a22" stroke="#5a0e12" stroke-width="0.5"/>
<text x="166.29999999999998" y="198.29999999999998" font-size="3.3" text-anchor="start" fill="#111" stroke="#111" stroke-width="0.0" font-weight="bold" textLength="6.4" lengthAdjust="spacingAndGlyphs">High</text>
<line x1="110.5" y1="204.1" x2="110.5" y2="268.5" stroke="#333" stroke-width="0.5"/>
<line x1="110.5" y1="268.5" x2="193.4" y2="268.5" stroke="#333" stroke-width="0.5"/>
<line x1="109.5" y1="210.2" x2="110.5" y2="210.2" stroke="#333" stroke-width="0.5"/>
<text x="108.9" y="211.29999999999998" font-size="3.1" text-anchor="end" fill="#222" stroke="#222" stroke-width="0.0" font-weight="bold">-0.3</text>
<line x1="109.5" y1="222.2" x2="110.5" y2="222.2" stroke="#333" stroke-width="0.5"/>
<text x="108.9" y="223.29999999999998" font-size="3.1" text-anchor="end" fill="#222" stroke="#222" stroke-width="0.0" font-weight="bold">-0.4</text>
<line x1="109.5" y1="234.2" x2="110.5" y2="234.2" stroke="#333" stroke-width="0.5"/>
<text x="108.9" y="235.29999999999998" font-size="3.1" text-anchor="end" fill="#222" stroke="#222" stroke-width="0.0" font-weight="bold">-0.5</text>
<line x1="109.5" y1="246.2" x2="110.5" y2="246.2" stroke="#333" stroke-width="0.5"/>
<text x="108.9" y="247.29999999999998" font-size="3.1" text-anchor="end" fill="#222" stroke="#222" stroke-width="0.0" font-weight="bold">-0.6</text>
<line x1="109.5" y1="258" x2="110.5" y2="258" stroke="#333" stroke-width="0.5"/>
<text x="108.9" y="259.1" font-size="3.1" text-anchor="end" fill="#222" stroke="#222" stroke-width="0.0" font-weight="bold">-0.7</text>
<text x="101" y="232" font-size="3.0" text-anchor="middle" fill="#222" stroke="#222" stroke-width="0.0" font-weight="bold" transform="rotate(-90 101 232)" textLength="31.4" lengthAdjust="spacingAndGlyphs">A.443654 sensitivity (IC50)</text>
<line x1="133.2" y1="214" x2="133.2" y2="264.8" stroke="#3a3a3a" stroke-width="0.45"/>
<rect x="120.1" y="234.2" width="26.200000000000017" height="13.600000000000023" fill="#3367ad" stroke="#1d3566" stroke-width="0.6"/>
<line x1="120.1" y1="241.2" x2="146.3" y2="241.2" stroke="#1d3566" stroke-width="1.0"/>
<rect x="132.39999999999998" y="209.4" width="1.6" height="2.1999999999999886" rx="0.8" fill="#111"/>
<text x="133.2" y="271.9" font-size="3.2" text-anchor="middle" fill="#111" stroke="#111" stroke-width="0.0" font-weight="bold">Low</text>
<line x1="170.45" y1="236.5" x2="170.45" y2="265.7" stroke="#3a3a3a" stroke-width="0.45"/>
<rect x="157" y="246" width="26.900000000000006" height="10.199999999999989" fill="#e31a23" stroke="#8c1016" stroke-width="0.6"/>
<line x1="157" y1="251.3" x2="183.9" y2="251.3" stroke="#8c1016" stroke-width="1.0"/>
<text x="170.45" y="271.9" font-size="3.2" text-anchor="middle" fill="#111" stroke="#111" stroke-width="0.0" font-weight="bold">High</text>
<polyline points="133.2,208.3 133.2,206.9 170.45,206.9 170.45,208.3" fill="none" stroke="#777" stroke-width="0.5"/>
<text x="151.825" y="206.20000000000002" font-size="3.1" text-anchor="middle" fill="#111" stroke="#111" stroke-width="0.0" font-weight="bold">3.03e-10</text>
<text x="199.2" y="195.40" font-size="8.2" font-weight="bold" fill="#000">K</text>
<text x="233.7" y="198.29999999999998" font-size="3.3" text-anchor="start" fill="#111" stroke="#111" stroke-width="0.0" font-weight="bold" textLength="16.5" lengthAdjust="spacingAndGlyphs">ARGs score</text>
<ellipse cx="254.5" cy="197.1" rx="1.8" ry="1.25" fill="#2a4585" stroke="#1a2a55" stroke-width="0.5"/>
<text x="257.7" y="198.29999999999998" font-size="3.3" text-anchor="start" fill="#111" stroke="#111" stroke-width="0.0" font-weight="bold" textLength="4.6" lengthAdjust="spacingAndGlyphs">Low</text>
<ellipse cx="267.59999999999997" cy="197.1" rx="1.8" ry="1.25" fill="#9a1a22" stroke="#5a0e12" stroke-width="0.5"/>
<text x="270.8" y="198.29999999999998" font-size="3.3" text-anchor="start" fill="#111" stroke="#111" stroke-width="0.0" font-weight="bold" textLength="6.4" lengthAdjust="spacingAndGlyphs">High</text>
<line x1="215.4" y1="204.1" x2="215.4" y2="268.5" stroke="#333" stroke-width="0.5"/>
<line x1="215.4" y1="268.5" x2="295.8" y2="268.5" stroke="#333" stroke-width="0.5"/>
<line x1="214.4" y1="205.4" x2="215.4" y2="205.4" stroke="#333" stroke-width="0.5"/>
<text x="213.8" y="206.5" font-size="3.1" text-anchor="end" fill="#222" stroke="#222" stroke-width="0.0" font-weight="bold">-1.00</text>
<line x1="214.4" y1="223.1" x2="215.4" y2="223.1" stroke="#333" stroke-width="0.5"/>
<text x="213.8" y="224.2" font-size="3.1" text-anchor="end" fill="#222" stroke="#222" stroke-width="0.0" font-weight="bold">-1.25</text>
<line x1="214.4" y1="240.1" x2="215.4" y2="240.1" stroke="#333" stroke-width="0.5"/>
<text x="213.8" y="241.2" font-size="3.1" text-anchor="end" fill="#222" stroke="#222" stroke-width="0.0" font-weight="bold">-1.50</text>
<line x1="214.4" y1="257.6" x2="215.4" y2="257.6" stroke="#333" stroke-width="0.5"/>
<text x="213.8" y="258.70000000000005" font-size="3.1" text-anchor="end" fill="#222" stroke="#222" stroke-width="0.0" font-weight="bold">-1.75</text>
<text x="203.6" y="233.4" font-size="3.0" text-anchor="middle" fill="#222" stroke="#222" stroke-width="0.0" font-weight="bold" transform="rotate(-90 203.6 233.4)" textLength="31.3" lengthAdjust="spacingAndGlyphs">BI.2536 sensitivity (IC50)</text>
<line x1="237.6" y1="222.6" x2="237.6" y2="263" stroke="#3a3a3a" stroke-width="0.45"/>
<rect x="224.5" y="236.2" width="26.19999999999999" height="12.600000000000023" fill="#3367ad" stroke="#1d3566" stroke-width="0.6"/>
<line x1="224.5" y1="242.7" x2="250.7" y2="242.7" stroke="#1d3566" stroke-width="1.0"/>
<circle cx="237.6" cy="209.2" r="0.85" fill="#111"/>
<circle cx="237.6" cy="212.4" r="0.85" fill="#111"/>
<circle cx="237.6" cy="216.2" r="0.85" fill="#111"/>
<text x="237.6" y="271.9" font-size="3.2" text-anchor="middle" fill="#111" stroke="#111" stroke-width="0.0" font-weight="bold">Low</text>
<line x1="273.95000000000005" y1="236.2" x2="273.95000000000005" y2="265.2" stroke="#3a3a3a" stroke-width="0.45"/>
<rect x="261.1" y="246.4" width="25.69999999999999" height="8.099999999999994" fill="#e31a23" stroke="#8c1016" stroke-width="0.6"/>
<line x1="261.1" y1="250.9" x2="286.8" y2="250.9" stroke="#8c1016" stroke-width="1.0"/>
<text x="273.95000000000005" y="271.9" font-size="3.2" text-anchor="middle" fill="#111" stroke="#111" stroke-width="0.0" font-weight="bold">High</text>
<polyline points="237.6,208.0 237.6,206.6 273.95000000000005,206.6 273.95000000000005,208.0" fill="none" stroke="#777" stroke-width="0.5"/>
<text x="255.77500000000003" y="205.9" font-size="3.1" text-anchor="middle" fill="#111" stroke="#111" stroke-width="0.0" font-weight="bold">1.22e-08</text>
<text x="300.8" y="194.10" font-size="8.2" font-weight="bold" fill="#000">L</text>
<text x="329.2" y="198.89999999999998" font-size="3.3" text-anchor="start" fill="#111" stroke="#111" stroke-width="0.0" font-weight="bold" textLength="16.5" lengthAdjust="spacingAndGlyphs">ARGs score</text>
<ellipse cx="350.0" cy="197.7" rx="1.8" ry="1.25" fill="#2a4585" stroke="#1a2a55" stroke-width="0.5"/>
<text x="353.2" y="198.89999999999998" font-size="3.3" text-anchor="start" fill="#111" stroke="#111" stroke-width="0.0" font-weight="bold" textLength="4.6" lengthAdjust="spacingAndGlyphs">Low</text>
<ellipse cx="363.09999999999997" cy="197.7" rx="1.8" ry="1.25" fill="#9a1a22" stroke="#5a0e12" stroke-width="0.5"/>
<text x="366.3" y="198.89999999999998" font-size="3.3" text-anchor="start" fill="#111" stroke="#111" stroke-width="0.0" font-weight="bold" textLength="6.4" lengthAdjust="spacingAndGlyphs">High</text>
<line x1="310.4" y1="205.4" x2="310.4" y2="269" stroke="#333" stroke-width="0.5"/>
<line x1="310.4" y1="269" x2="394" y2="269" stroke="#333" stroke-width="0.5"/>
<line x1="309.4" y1="207" x2="310.4" y2="207" stroke="#333" stroke-width="0.5"/>
<text x="308.79999999999995" y="208.1" font-size="3.1" text-anchor="end" fill="#222" stroke="#222" stroke-width="0.0" font-weight="bold">4.8</text>
<line x1="309.4" y1="222.6" x2="310.4" y2="222.6" stroke="#333" stroke-width="0.5"/>
<text x="308.79999999999995" y="223.7" font-size="3.1" text-anchor="end" fill="#222" stroke="#222" stroke-width="0.0" font-weight="bold">4.7</text>
<line x1="309.4" y1="237.7" x2="310.4" y2="237.7" stroke="#333" stroke-width="0.5"/>
<text x="308.79999999999995" y="238.79999999999998" font-size="3.1" text-anchor="end" fill="#222" stroke="#222" stroke-width="0.0" font-weight="bold">4.6</text>
<line x1="309.4" y1="253.5" x2="310.4" y2="253.5" stroke="#333" stroke-width="0.5"/>
<text x="308.79999999999995" y="254.6" font-size="3.1" text-anchor="end" fill="#222" stroke="#222" stroke-width="0.0" font-weight="bold">4.5</text>
<text x="302.3" y="236.8" font-size="3.0" text-anchor="middle" fill="#222" stroke="#222" stroke-width="0.0" font-weight="bold" transform="rotate(-90 302.3 236.8)" textLength="43.6" lengthAdjust="spacingAndGlyphs">Bicalutamide sensitivity (IC50)</text>
<line x1="333.3" y1="217.2" x2="333.3" y2="248" stroke="#3a3a3a" stroke-width="0.45"/>
<rect x="319.8" y="228.6" width="27.0" height="8.200000000000017" fill="#3367ad" stroke="#1d3566" stroke-width="0.6"/>
<line x1="319.8" y1="232.7" x2="346.8" y2="232.7" stroke="#1d3566" stroke-width="1.0"/>
<circle cx="333.3" cy="265.7" r="0.85" fill="#111"/>
<rect x="332.5" y="209.8" width="1.6" height="5.099999999999994" rx="0.8" fill="#111"/>
<text x="333.3" y="272.5" font-size="3.2" text-anchor="middle" fill="#111" stroke="#111" stroke-width="0.0" font-weight="bold">Low</text>
<line x1="371.5" y1="229" x2="371.5" y2="255.6" stroke="#3a3a3a" stroke-width="0.45"/>
<rect x="358" y="237.4" width="27" height="8.0" fill="#e31a23" stroke="#8c1016" stroke-width="0.6"/>
<line x1="358" y1="240.4" x2="385" y2="240.4" stroke="#8c1016" stroke-width="1.0"/>
<text x="371.5" y="272.5" font-size="3.2" text-anchor="middle" fill="#111" stroke="#111" stroke-width="0.0" font-weight="bold">High</text>
<polyline points="333.3,209.0 333.3,207.6 371.5,207.6 371.5,209.0" fill="none" stroke="#777" stroke-width="0.5"/>
<text x="352.4" y="206.9" font-size="3.1" text-anchor="middle" fill="#111" stroke="#111" stroke-width="0.0" font-weight="bold">1.13e-8</text>
</svg>
</body></html>
